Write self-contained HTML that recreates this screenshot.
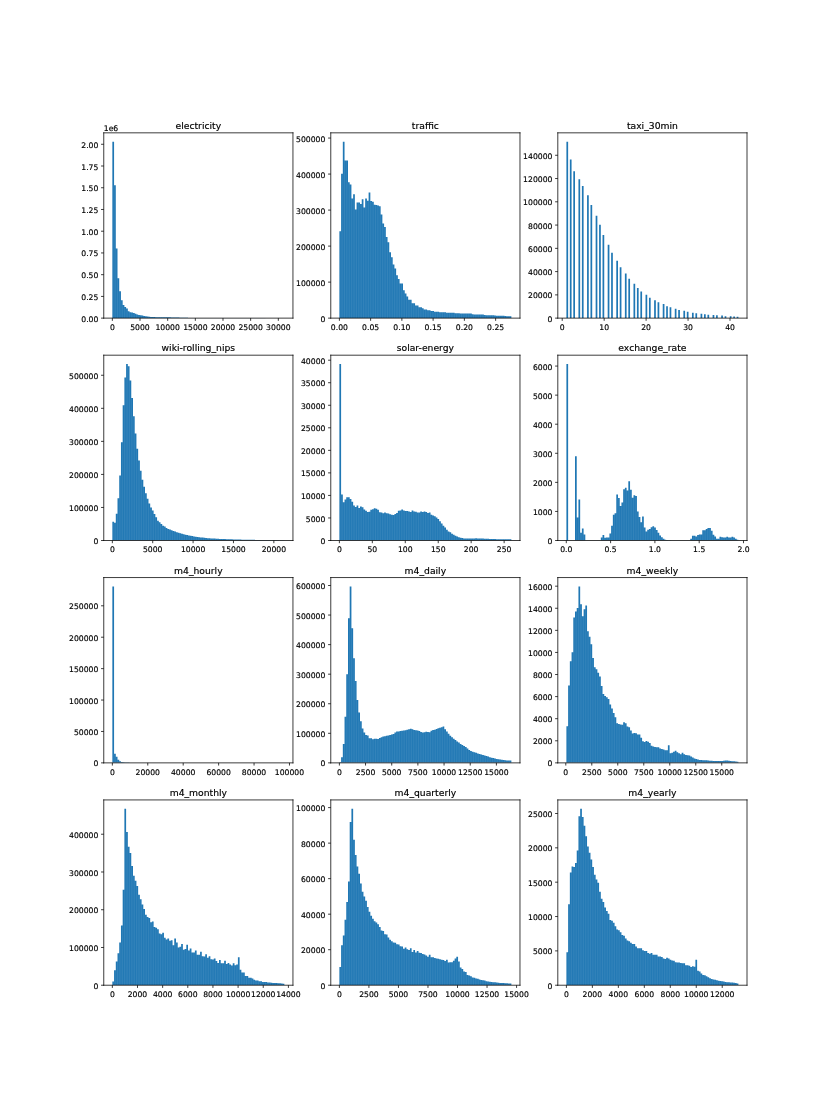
<!DOCTYPE html>
<html><head><meta charset="utf-8"><title>histograms</title>
<style>html,body{margin:0;padding:0;background:#fff;width:830px;height:1107px;overflow:hidden}
svg{display:block}
.bars{fill:#1f77b4}
.seams{fill:none;stroke:#fff;stroke-width:.5;stroke-opacity:.25}
text{font-family:"DejaVu Sans","Liberation Sans",sans-serif;stroke:#000;stroke-width:.22}
use{stroke:#000;stroke-width:1}</style></head>
<body>
<svg width="830" height="1107" preserveAspectRatio="none" viewBox="0 0 1080 1440" version="1.1">
<defs>
<style type="text/css">*{stroke-linejoin: round; stroke-linecap: butt}</style>
</defs>
<g id="figure_1">
<g id="patch_1">
<path d="M 0 1440 
L 1080 1440 
L 1080 0 
L 0 0 
z
" style="fill: #ffffff"/>
</g>
<g id="axes_1">
<g id="patch_2">
<path d="M 135 413.84 
L 381.18 413.84 
L 381.18 172.8 
L 135 172.8 
z
" style="fill: #ffffff"/>
</g>
<path class="bars" clip-path="url(#pd97300e546)" d="M146.19 413.84H148.43V184.28H146.19ZM148.43 413.84H150.67V240.82H148.43ZM150.67 413.84H152.9V323.37H150.67ZM152.9 413.84H155.14V361.94H152.9ZM155.14 413.84H157.38V378.9H155.14ZM157.38 413.84H159.62V390.66H157.38ZM159.62 413.84H161.86V396.88H159.62ZM161.86 413.84H164.09V399.48H161.86ZM164.09 413.84H166.33V401.4H164.09ZM166.33 413.84H168.57V404.91H166.33ZM168.57 413.84H170.81V406.15H168.57ZM170.81 413.84H173.05V406.49H170.81ZM173.05 413.84H175.28V407.06H173.05ZM175.28 413.84H177.52V408.19H175.28ZM177.52 413.84H179.76V409.09H177.52ZM179.76 413.84H182V409.77H179.76ZM182 413.84H184.24V410.22H182ZM184.24 413.84H186.47V410.56H184.24ZM186.47 413.84H188.71V411.02H186.47ZM188.71 413.84H190.95V411.36H188.71ZM190.95 413.84H193.19V411.61H190.95ZM193.19 413.84H195.43V411.99H193.19ZM195.43 413.84H197.66V412.22H195.43ZM197.66 413.84H199.9V412.35H197.66ZM199.9 413.84H202.14V412.46H199.9ZM202.14 413.84H204.38V412.55H202.14ZM204.38 413.84H206.61V412.6H204.38ZM206.61 413.84H208.85V412.62H206.61ZM208.85 413.84H211.09V412.63H208.85ZM211.09 413.84H213.33V412.64H211.09ZM213.33 413.84H215.57V412.66H213.33ZM215.57 413.84H217.8V412.68H215.57ZM217.8 413.84H220.04V412.71H217.8ZM220.04 413.84H222.28V412.83H220.04ZM222.28 413.84H224.52V412.94H222.28ZM224.52 413.84H226.76V412.98H224.52ZM226.76 413.84H228.99V413.03H226.76ZM228.99 413.84H231.23V413.07H228.99ZM231.23 413.84H233.47V413.11H231.23ZM233.47 413.84H235.71V413.2H233.47ZM235.71 413.84H237.95V413.28H235.71ZM237.95 413.84H240.18V413.35H237.95ZM240.18 413.84H242.42V413.41H240.18ZM242.42 413.84H244.66V413.47H242.42ZM244.66 413.84H246.9V413.52H244.66ZM246.9 413.84H249.14V413.56H246.9ZM249.14 413.84H251.37V413.6H249.14ZM251.37 413.84H253.61V413.63H251.37ZM253.61 413.84H255.85V413.66H253.61ZM255.85 413.84H258.09V413.69H255.85ZM258.09 413.84H260.33V413.71H258.09ZM260.33 413.84H262.56V413.72H260.33ZM262.56 413.84H264.8V413.73H262.56ZM264.8 413.84H267.04V413.73H264.8ZM267.04 413.84H269.28V413.74H267.04ZM269.28 413.84H271.52V413.75H269.28ZM271.52 413.84H273.75V413.75H271.52ZM273.75 413.84H275.99V413.76H273.75ZM275.99 413.84H278.23V413.77H275.99ZM278.23 413.84H280.47V413.77H278.23ZM280.47 413.84H282.71V413.78H280.47ZM282.71 413.84H284.94V413.78H282.71ZM284.94 413.84H287.18V413.78H284.94ZM287.18 413.84H289.42V413.78H287.18ZM289.42 413.84H291.66V413.79H289.42ZM291.66 413.84H293.9V413.79H291.66ZM293.9 413.84H296.13V413.79H293.9ZM296.13 413.84H298.37V413.79H296.13ZM298.37 413.84H300.61V413.8H298.37ZM300.61 413.84H302.85V413.8H300.61ZM302.85 413.84H305.09V413.8H302.85ZM305.09 413.84H307.32V413.8H305.09ZM307.32 413.84H309.56V413.8H307.32ZM309.56 413.84H311.8V413.81H309.56ZM311.8 413.84H314.04V413.81H311.8ZM314.04 413.84H316.28V413.81H314.04ZM316.28 413.84H318.51V413.81H316.28ZM318.51 413.84H320.75V413.81H318.51ZM320.75 413.84H322.99V413.81H320.75ZM322.99 413.84H325.23V413.81H322.99ZM325.23 413.84H327.47V413.82H325.23ZM327.47 413.84H329.7V413.82H327.47ZM329.7 413.84H331.94V413.82H329.7ZM331.94 413.84H334.18V413.82H331.94ZM334.18 413.84H336.42V413.82H334.18ZM336.42 413.84H338.66V413.82H336.42ZM338.66 413.84H340.89V413.82H338.66ZM340.89 413.84H343.13V413.82H340.89ZM343.13 413.84H345.37V413.82H343.13ZM345.37 413.84H347.61V413.83H345.37ZM347.61 413.84H349.84V413.83H347.61ZM349.84 413.84H352.08V413.83H349.84ZM352.08 413.84H354.32V413.83H352.08ZM354.32 413.84H356.56V413.83H354.32ZM356.56 413.84H358.8V413.83H356.56ZM358.8 413.84H361.03V413.83H358.8ZM361.03 413.84H363.27V413.83H361.03ZM363.27 413.84H365.51V413.83H363.27ZM365.51 413.84H367.75V413.83H365.51ZM367.75 413.84H369.99V413.83H367.75Z"/>
<path class="seams" clip-path="url(#pd97300e546)" d="M148.43 413.84V240.97M150.67 413.84V323.52M152.9 413.84V362.09M155.14 413.84V379.05M157.38 413.84V390.81M159.62 413.84V397.03M161.86 413.84V399.63M164.09 413.84V401.55M166.33 413.84V405.06M168.57 413.84V406.3M170.81 413.84V406.64M173.05 413.84V407.21M175.28 413.84V408.34M177.52 413.84V409.24M179.76 413.84V409.92M182 413.84V410.37M184.24 413.84V410.71M186.47 413.84V411.17M188.71 413.84V411.51M190.95 413.84V411.76M193.19 413.84V412.14M195.43 413.84V412.37M197.66 413.84V412.5M199.9 413.84V412.61M202.14 413.84V412.7M204.38 413.84V412.75M206.61 413.84V412.77M208.85 413.84V412.78M211.09 413.84V412.79M213.33 413.84V412.81M215.57 413.84V412.83M217.8 413.84V412.86M220.04 413.84V412.98M222.28 413.84V413.09M224.52 413.84V413.13M226.76 413.84V413.18M228.99 413.84V413.22M231.23 413.84V413.26M233.47 413.84V413.35M235.71 413.84V413.43M237.95 413.84V413.5M240.18 413.84V413.56M242.42 413.84V413.62M244.66 413.84V413.67"/>
<g id="matplotlib.axis_1">
<g id="xtick_1">
<g id="line2d_1">
<defs>
<path id="m1504cfccaf" d="M 0 0 
L 0 3.5 
" />
</defs>
<g>
<use href="#m1504cfccaf" x="146.19" y="413.84" />
</g>
</g>
<g id="text_1">
<text style="font-size: 10px; text-anchor: middle" x="146.19" y="429.24">0</text>
</g>
</g>
<g id="xtick_2">
<g id="line2d_2">
<g>
<use href="#m1504cfccaf" x="182.18" y="413.84" />
</g>
</g>
<g id="text_2">
<text style="font-size: 10px; text-anchor: middle" x="182.18" y="429.24">5000</text>
</g>
</g>
<g id="xtick_3">
<g id="line2d_3">
<g>
<use href="#m1504cfccaf" x="218.18" y="413.84" />
</g>
</g>
<g id="text_3">
<text style="font-size: 10px; text-anchor: middle" x="218.18" y="429.24">10000</text>
</g>
</g>
<g id="xtick_4">
<g id="line2d_4">
<g>
<use href="#m1504cfccaf" x="254.17" y="413.84" />
</g>
</g>
<g id="text_4">
<text style="font-size: 10px; text-anchor: middle" x="254.17" y="429.24">15000</text>
</g>
</g>
<g id="xtick_5">
<g id="line2d_5">
<g>
<use href="#m1504cfccaf" x="290.16" y="413.84" />
</g>
</g>
<g id="text_5">
<text style="font-size: 10px; text-anchor: middle" x="290.16" y="429.24">20000</text>
</g>
</g>
<g id="xtick_6">
<g id="line2d_6">
<g>
<use href="#m1504cfccaf" x="326.15" y="413.84" />
</g>
</g>
<g id="text_6">
<text style="font-size: 10px; text-anchor: middle" x="326.15" y="429.24">25000</text>
</g>
</g>
<g id="xtick_7">
<g id="line2d_7">
<g>
<use href="#m1504cfccaf" x="362.15" y="413.84" />
</g>
</g>
<g id="text_7">
<text style="font-size: 10px; text-anchor: middle" x="362.15" y="429.24">30000</text>
</g>
</g>
</g>
<g id="matplotlib.axis_2">
<g id="ytick_1">
<g id="line2d_8">
<defs>
<path id="m5d545ce8f8" d="M 0 0 
L -3.5 0 
" />
</defs>
<g>
<use href="#m5d545ce8f8" x="135" y="413.84" />
</g>
</g>
<g id="text_8">
<text style="font-size: 10px; text-anchor: end" x="128" y="418.44">0.00</text>
</g>
</g>
<g id="ytick_2">
<g id="line2d_9">
<g>
<use href="#m5d545ce8f8" x="135" y="385.57" />
</g>
</g>
<g id="text_9">
<text style="font-size: 10px; text-anchor: end" x="128" y="390.17">0.25</text>
</g>
</g>
<g id="ytick_3">
<g id="line2d_10">
<g>
<use href="#m5d545ce8f8" x="135" y="357.3" />
</g>
</g>
<g id="text_10">
<text style="font-size: 10px; text-anchor: end" x="128" y="361.9">0.50</text>
</g>
</g>
<g id="ytick_4">
<g id="line2d_11">
<g>
<use href="#m5d545ce8f8" x="135" y="329.03" />
</g>
</g>
<g id="text_11">
<text style="font-size: 10px; text-anchor: end" x="128" y="333.63">0.75</text>
</g>
</g>
<g id="ytick_5">
<g id="line2d_12">
<g>
<use href="#m5d545ce8f8" x="135" y="300.76" />
</g>
</g>
<g id="text_12">
<text style="font-size: 10px; text-anchor: end" x="128" y="305.36">1.00</text>
</g>
</g>
<g id="ytick_6">
<g id="line2d_13">
<g>
<use href="#m5d545ce8f8" x="135" y="272.49" />
</g>
</g>
<g id="text_13">
<text style="font-size: 10px; text-anchor: end" x="128" y="277.08">1.25</text>
</g>
</g>
<g id="ytick_7">
<g id="line2d_14">
<g>
<use href="#m5d545ce8f8" x="135" y="244.21" />
</g>
</g>
<g id="text_14">
<text style="font-size: 10px; text-anchor: end" x="128" y="248.81">1.50</text>
</g>
</g>
<g id="ytick_8">
<g id="line2d_15">
<g>
<use href="#m5d545ce8f8" x="135" y="215.94" />
</g>
</g>
<g id="text_15">
<text style="font-size: 10px; text-anchor: end" x="128" y="220.54">1.75</text>
</g>
</g>
<g id="ytick_9">
<g id="line2d_16">
<g>
<use href="#m5d545ce8f8" x="135" y="187.67" />
</g>
</g>
<g id="text_16">
<text style="font-size: 10px; text-anchor: end" x="128" y="192.27">2.00</text>
</g>
</g>
<g id="text_17">
<text style="font-size: 10px; text-anchor: start" x="135" y="170.6">1e6</text>
</g>
</g>
<g id="patch_103">
<path d="M 135 413.84 
L 135 172.8 
" style="fill: none; stroke: #000000; stroke-width: 1; stroke-linejoin: miter; stroke-linecap: square"/>
</g>
<g id="patch_104">
<path d="M 381.18 413.84 
L 381.18 172.8 
" style="fill: none; stroke: #000000; stroke-width: 1; stroke-linejoin: miter; stroke-linecap: square"/>
</g>
<g id="patch_105">
<path d="M 135 413.84 
L 381.18 413.84 
" style="fill: none; stroke: #000000; stroke-width: 1; stroke-linejoin: miter; stroke-linecap: square"/>
</g>
<g id="patch_106">
<path d="M 135 172.8 
L 381.18 172.8 
" style="fill: none; stroke: #000000; stroke-width: 1; stroke-linejoin: miter; stroke-linecap: square"/>
</g>
<g id="text_18">
<text style="font-size: 12px; text-anchor: middle" x="258.09" y="167.6">electricity</text>
</g>
</g>
<g id="axes_2">
<g id="patch_107">
<path d="M 430.41 413.84 
L 676.59 413.84 
L 676.59 172.8 
L 430.41 172.8 
z
" style="fill: #ffffff"/>
</g>
<path class="bars" clip-path="url(#p04cb8b4899)" d="M441.6 413.84H443.84V300.93H441.6ZM443.84 413.84H446.08V225.97H443.84ZM446.08 413.84H448.32V184.28H446.08ZM448.32 413.84H450.55V208.64H448.32ZM450.55 413.84H452.79V208.64H450.55ZM452.79 413.84H455.03V237.22H452.79ZM455.03 413.84H457.27V240.03H455.03ZM457.27 413.84H459.51V258.3H457.27ZM459.51 413.84H461.74V252.68H459.51ZM461.74 413.84H463.98V272.36H461.74ZM463.98 413.84H466.22V263.45H463.98ZM466.22 413.84H468.46V263.45H466.22ZM468.46 413.84H470.7V265.33H468.46ZM470.7 413.84H472.93V259.24H470.7ZM472.93 413.84H475.17V270.01H472.93ZM475.17 413.84H477.41V258.3H475.17ZM477.41 413.84H479.65V261.11H477.41ZM479.65 413.84H481.89V250.34H479.65ZM481.89 413.84H484.12V261.58H481.89ZM484.12 413.84H486.36V262.52H484.12ZM486.36 413.84H488.6V266.27H486.36ZM488.6 413.84H490.84V266.73H488.6ZM490.84 413.84H493.07V267.2H490.84ZM493.07 413.84H495.31V268.14H493.07ZM495.31 413.84H497.55V278.92H495.31ZM497.55 413.84H499.79V290.63H497.55ZM499.79 413.84H502.03V295.31H499.79ZM502.03 413.84H504.26V308.43H502.03ZM504.26 413.84H506.5V314.99H504.26ZM506.5 413.84H508.74V328.11H506.5ZM508.74 413.84H510.98V334.67H508.74ZM510.98 413.84H513.22V344.04H510.98ZM513.22 413.84H515.45V349.19H513.22ZM515.45 413.84H517.69V358.09H515.45ZM517.69 413.84H519.93V362.78H517.69ZM519.93 413.84H522.17V368.77H519.93ZM522.17 413.84H524.41V368.77H522.17ZM524.41 413.84H526.64V377.68H524.41ZM526.64 413.84H528.88V381.89H526.64ZM528.88 413.84H531.12V385.64H528.88ZM531.12 413.84H533.36V389.86H531.12ZM533.36 413.84H535.6V389.86H533.36ZM535.6 413.84H537.83V394.54H535.6ZM537.83 413.84H540.07V394.54H537.83ZM540.07 413.84H542.31V397.35H540.07ZM542.31 413.84H544.55V397.35H542.31ZM544.55 413.84H546.79V399.69H544.55ZM546.79 413.84H549.02V399.69H546.79ZM549.02 413.84H551.26V401.1H549.02ZM551.26 413.84H553.5V402.51H551.26ZM553.5 413.84H555.74V402.51H553.5ZM555.74 413.84H557.98V403.44H555.74ZM557.98 413.84H560.21V403.44H557.98ZM560.21 413.84H562.45V404.66H560.21ZM562.45 413.84H564.69V404.66H562.45ZM564.69 413.84H566.93V405.6H564.69ZM566.93 413.84H569.17V405.6H566.93ZM569.17 413.84H571.4V405.6H569.17ZM571.4 413.84H573.64V406.25H571.4ZM573.64 413.84H575.88V406.25H573.64ZM575.88 413.84H578.12V406.25H575.88ZM578.12 413.84H580.36V406.25H578.12ZM580.36 413.84H582.59V406.91H580.36ZM582.59 413.84H584.83V406.91H582.59ZM584.83 413.84H587.07V406.91H584.83ZM587.07 413.84H589.31V406.91H587.07ZM589.31 413.84H591.55V406.91H589.31ZM591.55 413.84H593.78V407.38H591.55ZM593.78 413.84H596.02V407.38H593.78ZM596.02 413.84H598.26V407.38H596.02ZM598.26 413.84H600.5V407.66H598.26ZM600.5 413.84H602.74V407.85H600.5ZM602.74 413.84H604.97V407.85H602.74ZM604.97 413.84H607.21V407.85H604.97ZM607.21 413.84H609.45V407.85H607.21ZM609.45 413.84H611.69V407.85H609.45ZM611.69 413.84H613.93V407.85H611.69ZM613.93 413.84H616.16V408.83H613.93ZM616.16 413.84H618.4V409.06H616.16ZM618.4 413.84H620.64V409.06H618.4ZM620.64 413.84H622.88V409.06H620.64ZM622.88 413.84H625.11V409.06H622.88ZM625.11 413.84H627.35V409.06H625.11ZM627.35 413.84H629.59V409.06H627.35ZM629.59 413.84H631.83V409.77H629.59ZM631.83 413.84H634.07V410H631.83ZM634.07 413.84H636.3V410H634.07ZM636.3 413.84H638.54V410H636.3ZM638.54 413.84H640.78V410H638.54ZM640.78 413.84H643.02V410H640.78ZM643.02 413.84H645.26V410.56H643.02ZM645.26 413.84H647.49V410.66H645.26ZM647.49 413.84H649.73V410.66H647.49ZM649.73 413.84H651.97V410.66H649.73ZM651.97 413.84H654.21V410.66H651.97ZM654.21 413.84H656.45V410.66H654.21ZM656.45 413.84H658.68V410.94H656.45ZM658.68 413.84H660.92V411.22H658.68ZM660.92 413.84H663.16V411.31H660.92ZM663.16 413.84H665.4V411.31H663.16Z"/>
<path class="seams" clip-path="url(#p04cb8b4899)" d="M443.84 413.84V301.08M446.08 413.84V226.12M448.32 413.84V208.79M450.55 413.84V208.79M452.79 413.84V237.37M455.03 413.84V240.18M457.27 413.84V258.45M459.51 413.84V258.45M461.74 413.84V272.51M463.98 413.84V272.51M466.22 413.84V263.6M468.46 413.84V265.48M470.7 413.84V265.48M472.93 413.84V270.16M475.17 413.84V270.16M477.41 413.84V261.26M479.65 413.84V261.26M481.89 413.84V261.73M484.12 413.84V262.67M486.36 413.84V266.42M488.6 413.84V266.88M490.84 413.84V267.35M493.07 413.84V268.29M495.31 413.84V279.07M497.55 413.84V290.78M499.79 413.84V295.46M502.03 413.84V308.58M504.26 413.84V315.14M506.5 413.84V328.26M508.74 413.84V334.82M510.98 413.84V344.19M513.22 413.84V349.34M515.45 413.84V358.24M517.69 413.84V362.93M519.93 413.84V368.92M522.17 413.84V368.92M524.41 413.84V377.83M526.64 413.84V382.04M528.88 413.84V385.79M531.12 413.84V390.01M533.36 413.84V390.01M535.6 413.84V394.69M537.83 413.84V394.69M540.07 413.84V397.5M542.31 413.84V397.5M544.55 413.84V399.84M546.79 413.84V399.84M549.02 413.84V401.25M551.26 413.84V402.66M553.5 413.84V402.66M555.74 413.84V403.59M557.98 413.84V403.59M560.21 413.84V404.81M562.45 413.84V404.81M564.69 413.84V405.75M566.93 413.84V405.75M569.17 413.84V405.75M571.4 413.84V406.4M573.64 413.84V406.4M575.88 413.84V406.4M578.12 413.84V406.4M580.36 413.84V407.06M582.59 413.84V407.06M584.83 413.84V407.06M587.07 413.84V407.06M589.31 413.84V407.06M591.55 413.84V407.53M593.78 413.84V407.53M596.02 413.84V407.53M598.26 413.84V407.81M600.5 413.84V408M602.74 413.84V408M604.97 413.84V408M607.21 413.84V408M609.45 413.84V408M611.69 413.84V408M613.93 413.84V408.98M616.16 413.84V409.21M618.4 413.84V409.21M620.64 413.84V409.21M622.88 413.84V409.21M625.11 413.84V409.21M627.35 413.84V409.21M629.59 413.84V409.92M631.83 413.84V410.15M634.07 413.84V410.15M636.3 413.84V410.15M638.54 413.84V410.15M640.78 413.84V410.15M643.02 413.84V410.71M645.26 413.84V410.81M647.49 413.84V410.81M649.73 413.84V410.81M651.97 413.84V410.81M654.21 413.84V410.81M656.45 413.84V411.09M658.68 413.84V411.37M660.92 413.84V411.46M663.16 413.84V411.46"/>
<g id="matplotlib.axis_3">
<g id="xtick_8">
<g id="line2d_17">
<g>
<use href="#m1504cfccaf" x="441.6" y="413.84" />
</g>
</g>
<g id="text_19">
<text style="font-size: 10px; text-anchor: middle" x="441.6" y="429.24">0.00</text>
</g>
</g>
<g id="xtick_9">
<g id="line2d_18">
<g>
<use href="#m1504cfccaf" x="482.26" y="413.84" />
</g>
</g>
<g id="text_20">
<text style="font-size: 10px; text-anchor: middle" x="482.26" y="429.24">0.05</text>
</g>
</g>
<g id="xtick_10">
<g id="line2d_19">
<g>
<use href="#m1504cfccaf" x="522.92" y="413.84" />
</g>
</g>
<g id="text_21">
<text style="font-size: 10px; text-anchor: middle" x="522.92" y="429.24">0.10</text>
</g>
</g>
<g id="xtick_11">
<g id="line2d_20">
<g>
<use href="#m1504cfccaf" x="563.58" y="413.84" />
</g>
</g>
<g id="text_22">
<text style="font-size: 10px; text-anchor: middle" x="563.58" y="429.24">0.15</text>
</g>
</g>
<g id="xtick_12">
<g id="line2d_21">
<g>
<use href="#m1504cfccaf" x="604.24" y="413.84" />
</g>
</g>
<g id="text_23">
<text style="font-size: 10px; text-anchor: middle" x="604.24" y="429.24">0.20</text>
</g>
</g>
<g id="xtick_13">
<g id="line2d_22">
<g>
<use href="#m1504cfccaf" x="644.91" y="413.84" />
</g>
</g>
<g id="text_24">
<text style="font-size: 10px; text-anchor: middle" x="644.91" y="429.24">0.25</text>
</g>
</g>
</g>
<g id="matplotlib.axis_4">
<g id="ytick_10">
<g id="line2d_23">
<g>
<use href="#m5d545ce8f8" x="430.41" y="413.84" />
</g>
</g>
<g id="text_25">
<text style="font-size: 10px; text-anchor: end" x="423.41" y="418.44">0</text>
</g>
</g>
<g id="ytick_11">
<g id="line2d_24">
<g>
<use href="#m5d545ce8f8" x="430.41" y="366.99" />
</g>
</g>
<g id="text_26">
<text style="font-size: 10px; text-anchor: end" x="423.41" y="371.59">100000</text>
</g>
</g>
<g id="ytick_12">
<g id="line2d_25">
<g>
<use href="#m5d545ce8f8" x="430.41" y="320.14" />
</g>
</g>
<g id="text_27">
<text style="font-size: 10px; text-anchor: end" x="423.41" y="324.74">200000</text>
</g>
</g>
<g id="ytick_13">
<g id="line2d_26">
<g>
<use href="#m5d545ce8f8" x="430.41" y="273.29" />
</g>
</g>
<g id="text_28">
<text style="font-size: 10px; text-anchor: end" x="423.41" y="277.89">300000</text>
</g>
</g>
<g id="ytick_14">
<g id="line2d_27">
<g>
<use href="#m5d545ce8f8" x="430.41" y="226.44" />
</g>
</g>
<g id="text_29">
<text style="font-size: 10px; text-anchor: end" x="423.41" y="231.04">400000</text>
</g>
</g>
<g id="ytick_15">
<g id="line2d_28">
<g>
<use href="#m5d545ce8f8" x="430.41" y="179.59" />
</g>
</g>
<g id="text_30">
<text style="font-size: 10px; text-anchor: end" x="423.41" y="184.19">500000</text>
</g>
</g>
</g>
<g id="patch_208">
<path d="M 430.41 413.84 
L 430.41 172.8 
" style="fill: none; stroke: #000000; stroke-width: 1; stroke-linejoin: miter; stroke-linecap: square"/>
</g>
<g id="patch_209">
<path d="M 676.59 413.84 
L 676.59 172.8 
" style="fill: none; stroke: #000000; stroke-width: 1; stroke-linejoin: miter; stroke-linecap: square"/>
</g>
<g id="patch_210">
<path d="M 430.41 413.84 
L 676.59 413.84 
" style="fill: none; stroke: #000000; stroke-width: 1; stroke-linejoin: miter; stroke-linecap: square"/>
</g>
<g id="patch_211">
<path d="M 430.41 172.8 
L 676.59 172.8 
" style="fill: none; stroke: #000000; stroke-width: 1; stroke-linejoin: miter; stroke-linecap: square"/>
</g>
<g id="text_31">
<text style="font-size: 12px; text-anchor: middle" x="553.5" y="167.6">traffic</text>
</g>
</g>
<g id="axes_3">
<g id="patch_212">
<path d="M 725.82 413.84 
L 972 413.84 
L 972 172.8 
L 725.82 172.8 
z
" style="fill: #ffffff"/>
</g>
<path class="bars" clip-path="url(#pd97a7c8abd)" d="M737.01 413.84H739.25V184.28H737.01ZM741.49 413.84H743.73V207.43H741.49ZM745.97 413.84H748.2V222.72H745.97ZM752.68 413.84H754.92V233.16H752.68ZM757.16 413.84H759.39V242.09H757.16ZM763.87 413.84H766.11V253.89H763.87ZM768.34 413.84H770.58V266.6H768.34ZM775.06 413.84H777.3V280.52H775.06ZM779.53 413.84H781.77V292.33H779.53ZM784.01 413.84H786.25V305.79H784.01ZM790.72 413.84H792.96V318.51H790.72ZM795.2 413.84H797.44V328.8H795.2ZM801.91 413.84H804.15V339.24H801.91ZM806.39 413.84H808.63V347.71H806.39ZM813.1 413.84H815.34V355.73H813.1ZM817.58 413.84H819.82V362.54H817.58ZM824.29 413.84H826.53V369.2H824.29ZM828.77 413.84H831.01V374.5H828.77ZM833.25 413.84H835.48V379.04H833.25ZM839.96 413.84H842.2V383.28H839.96ZM844.44 413.84H846.67V387.21H844.44ZM851.15 413.84H853.39V390.69H851.15ZM855.63 413.84H857.86V393.26H855.63ZM862.34 413.84H864.58V395.53H862.34ZM866.82 413.84H869.05V398.26H866.82ZM871.29 413.84H873.53V399.77H871.29ZM878.01 413.84H880.24V401.74H878.01ZM882.48 413.84H884.72V403.25H882.48ZM889.2 413.84H891.43V404.31H889.2ZM893.67 413.84H895.91V405.67H893.67ZM900.39 413.84H902.62V406.73H900.39ZM904.86 413.84H907.1V407.49H904.86ZM911.57 413.84H913.81V408.09H911.57ZM916.05 413.84H918.29V408.85H916.05ZM920.53 413.84H922.76V409.45H920.53ZM927.24 413.84H929.48V409.91H927.24ZM931.72 413.84H933.95V410.06H931.72ZM938.43 413.84H940.67V410.51H938.43ZM942.91 413.84H945.14V411.27H942.91ZM949.62 413.84H951.86V411.42H949.62ZM954.1 413.84H956.33V411.57H954.1ZM958.57 413.84H960.81V411.88H958.57Z"/>
<g id="matplotlib.axis_5">
<g id="xtick_14">
<g id="line2d_29">
<g>
<use href="#m1504cfccaf" x="731.55" y="413.84" />
</g>
</g>
<g id="text_32">
<text style="font-size: 10px; text-anchor: middle" x="731.55" y="429.24">0</text>
</g>
</g>
<g id="xtick_15">
<g id="line2d_30">
<g>
<use href="#m1504cfccaf" x="786.14" y="413.84" />
</g>
</g>
<g id="text_33">
<text style="font-size: 10px; text-anchor: middle" x="786.14" y="429.24">10</text>
</g>
</g>
<g id="xtick_16">
<g id="line2d_31">
<g>
<use href="#m1504cfccaf" x="840.72" y="413.84" />
</g>
</g>
<g id="text_34">
<text style="font-size: 10px; text-anchor: middle" x="840.72" y="429.24">20</text>
</g>
</g>
<g id="xtick_17">
<g id="line2d_32">
<g>
<use href="#m1504cfccaf" x="895.31" y="413.84" />
</g>
</g>
<g id="text_35">
<text style="font-size: 10px; text-anchor: middle" x="895.31" y="429.24">30</text>
</g>
</g>
<g id="xtick_18">
<g id="line2d_33">
<g>
<use href="#m1504cfccaf" x="949.89" y="413.84" />
</g>
</g>
<g id="text_36">
<text style="font-size: 10px; text-anchor: middle" x="949.89" y="429.24">40</text>
</g>
</g>
</g>
<g id="matplotlib.axis_6">
<g id="ytick_16">
<g id="line2d_34">
<g>
<use href="#m5d545ce8f8" x="725.82" y="413.84" />
</g>
</g>
<g id="text_37">
<text style="font-size: 10px; text-anchor: end" x="718.82" y="418.44">0</text>
</g>
</g>
<g id="ytick_17">
<g id="line2d_35">
<g>
<use href="#m5d545ce8f8" x="725.82" y="383.58" />
</g>
</g>
<g id="text_38">
<text style="font-size: 10px; text-anchor: end" x="718.82" y="388.18">20000</text>
</g>
</g>
<g id="ytick_18">
<g id="line2d_36">
<g>
<use href="#m5d545ce8f8" x="725.82" y="353.31" />
</g>
</g>
<g id="text_39">
<text style="font-size: 10px; text-anchor: end" x="718.82" y="357.91">40000</text>
</g>
</g>
<g id="ytick_19">
<g id="line2d_37">
<g>
<use href="#m5d545ce8f8" x="725.82" y="323.05" />
</g>
</g>
<g id="text_40">
<text style="font-size: 10px; text-anchor: end" x="718.82" y="327.65">60000</text>
</g>
</g>
<g id="ytick_20">
<g id="line2d_38">
<g>
<use href="#m5d545ce8f8" x="725.82" y="292.78" />
</g>
</g>
<g id="text_41">
<text style="font-size: 10px; text-anchor: end" x="718.82" y="297.38">80000</text>
</g>
</g>
<g id="ytick_21">
<g id="line2d_39">
<g>
<use href="#m5d545ce8f8" x="725.82" y="262.52" />
</g>
</g>
<g id="text_42">
<text style="font-size: 10px; text-anchor: end" x="718.82" y="267.11">100000</text>
</g>
</g>
<g id="ytick_22">
<g id="line2d_40">
<g>
<use href="#m5d545ce8f8" x="725.82" y="232.25" />
</g>
</g>
<g id="text_43">
<text style="font-size: 10px; text-anchor: end" x="718.82" y="236.85">120000</text>
</g>
</g>
<g id="ytick_23">
<g id="line2d_41">
<g>
<use href="#m5d545ce8f8" x="725.82" y="201.98" />
</g>
</g>
<g id="text_44">
<text style="font-size: 10px; text-anchor: end" x="718.82" y="206.58">140000</text>
</g>
</g>
</g>
<g id="patch_313">
<path d="M 725.82 413.84 
L 725.82 172.8 
" style="fill: none; stroke: #000000; stroke-width: 1; stroke-linejoin: miter; stroke-linecap: square"/>
</g>
<g id="patch_314">
<path d="M 972 413.84 
L 972 172.8 
" style="fill: none; stroke: #000000; stroke-width: 1; stroke-linejoin: miter; stroke-linecap: square"/>
</g>
<g id="patch_315">
<path d="M 725.82 413.84 
L 972 413.84 
" style="fill: none; stroke: #000000; stroke-width: 1; stroke-linejoin: miter; stroke-linecap: square"/>
</g>
<g id="patch_316">
<path d="M 725.82 172.8 
L 972 172.8 
" style="fill: none; stroke: #000000; stroke-width: 1; stroke-linejoin: miter; stroke-linecap: square"/>
</g>
<g id="text_45">
<text style="font-size: 12px; text-anchor: middle" x="848.91" y="167.6">taxi_30min</text>
</g>
</g>
<g id="axes_4">
<g id="patch_317">
<path d="M 135 703.1 
L 381.18 703.1 
L 381.18 462.05 
L 135 462.05 
z
" style="fill: #ffffff"/>
</g>
<path class="bars" clip-path="url(#pf12d10b1b9)" d="M146.19 703.1H148.43V678.59H146.19ZM148.43 703.1H150.67V679.88H148.43ZM150.67 703.1H152.9V668.27H150.67ZM152.9 703.1H155.14V648.07H152.9ZM155.14 703.1H157.38V618.41H155.14ZM157.38 703.1H159.62V575.42H157.38ZM159.62 703.1H161.86V527.27H159.62ZM161.86 703.1H164.09V491.16H161.86ZM164.09 703.1H166.33V473.53H164.09ZM166.33 703.1H168.57V476.54H166.33ZM168.57 703.1H170.81V495.03H168.57ZM170.81 703.1H173.05V517.81H170.81ZM173.05 703.1H175.28V541.45H173.05ZM175.28 703.1H177.52V563.81H175.28ZM177.52 703.1H179.76V583.58H177.52ZM179.76 703.1H182V599.06H179.76ZM182 703.1H184.24V612.39H182ZM184.24 703.1H186.47V623.99H184.24ZM186.47 703.1H188.71V633.02H186.47ZM188.71 703.1H190.95V641.62H188.71ZM190.95 703.1H193.19V648.93H190.95ZM193.19 703.1H195.43V654.95H193.19ZM195.43 703.1H197.66V660.11H195.43ZM197.66 703.1H199.9V663.97H197.66ZM199.9 703.1H202.14V668.7H199.9ZM202.14 703.1H204.38V673H202.14ZM204.38 703.1H206.61V677.3H204.38ZM206.61 703.1H208.85V679.45H206.61ZM208.85 703.1H211.09V681.6H208.85ZM211.09 703.1H213.33V683.75H211.09ZM213.33 703.1H215.57V685.04H213.33ZM215.57 703.1H217.8V686.76H215.57ZM217.8 703.1H220.04V688.05H217.8ZM220.04 703.1H222.28V688.87H220.04ZM222.28 703.1H224.52V689.7H222.28ZM224.52 703.1H226.76V690.57H224.52ZM226.76 703.1H228.99V691.42H226.76ZM228.99 703.1H231.23V692.29H228.99ZM231.23 703.1H233.47V693.05H231.23ZM233.47 703.1H235.71V693.7H233.47ZM235.71 703.1H237.95V694.36H235.71ZM237.95 703.1H240.18V695.04H237.95ZM240.18 703.1H242.42V695.59H240.18ZM242.42 703.1H244.66V696.03H242.42ZM244.66 703.1H246.9V696.45H244.66ZM246.9 703.1H249.14V696.89H246.9ZM249.14 703.1H251.37V697.35H249.14ZM251.37 703.1H253.61V697.78H251.37ZM253.61 703.1H255.85V698.14H253.61ZM255.85 703.1H258.09V698.47H255.85ZM258.09 703.1H260.33V698.77H258.09ZM260.33 703.1H262.56V699.06H260.33ZM262.56 703.1H264.8V699.32H262.56ZM264.8 703.1H267.04V699.57H264.8ZM267.04 703.1H269.28V699.8H267.04ZM269.28 703.1H271.52V700.02H269.28ZM271.52 703.1H273.75V700.22H271.52ZM273.75 703.1H275.99V700.38H273.75ZM275.99 703.1H278.23V700.51H275.99ZM278.23 703.1H280.47V700.65H278.23ZM280.47 703.1H282.71V700.77H280.47ZM282.71 703.1H284.94V700.89H282.71ZM284.94 703.1H287.18V700.99H284.94ZM287.18 703.1H289.42V701.08H287.18ZM289.42 703.1H291.66V701.17H289.42ZM291.66 703.1H293.9V701.25H291.66ZM293.9 703.1H296.13V701.33H293.9ZM296.13 703.1H298.37V701.43H296.13ZM298.37 703.1H300.61V701.52H298.37ZM300.61 703.1H302.85V701.61H300.61ZM302.85 703.1H305.09V701.69H302.85ZM305.09 703.1H307.32V701.77H305.09ZM307.32 703.1H309.56V701.83H307.32ZM309.56 703.1H311.8V701.88H309.56ZM311.8 703.1H314.04V701.94H311.8ZM314.04 703.1H316.28V701.99H314.04ZM316.28 703.1H318.51V702.03H316.28ZM318.51 703.1H320.75V702.08H318.51ZM320.75 703.1H322.99V702.13H320.75ZM322.99 703.1H325.23V702.17H322.99ZM325.23 703.1H327.47V702.21H325.23ZM327.47 703.1H329.7V702.24H327.47ZM329.7 703.1H331.94V702.27H329.7ZM331.94 703.1H334.18V702.29H331.94ZM334.18 703.1H336.42V702.32H334.18ZM336.42 703.1H338.66V702.34H336.42ZM338.66 703.1H340.89V702.36H338.66ZM340.89 703.1H343.13V702.38H340.89ZM343.13 703.1H345.37V702.4H343.13ZM345.37 703.1H347.61V702.42H345.37ZM347.61 703.1H349.84V702.44H347.61ZM349.84 703.1H352.08V702.47H349.84ZM352.08 703.1H354.32V702.5H352.08ZM354.32 703.1H356.56V702.52H354.32ZM356.56 703.1H358.8V702.55H356.56ZM358.8 703.1H361.03V702.58H358.8ZM361.03 703.1H363.27V702.6H361.03ZM363.27 703.1H365.51V702.62H363.27ZM365.51 703.1H367.75V702.64H365.51ZM367.75 703.1H369.99V702.67H367.75Z"/>
<path class="seams" clip-path="url(#pf12d10b1b9)" d="M148.43 703.1V680.03M150.67 703.1V680.03M152.9 703.1V668.42M155.14 703.1V648.22M157.38 703.1V618.56M159.62 703.1V575.57M161.86 703.1V527.42M164.09 703.1V491.31M166.33 703.1V476.69M168.57 703.1V495.18M170.81 703.1V517.96M173.05 703.1V541.6M175.28 703.1V563.96M177.52 703.1V583.73M179.76 703.1V599.21M182 703.1V612.54M184.24 703.1V624.14M186.47 703.1V633.17M188.71 703.1V641.77M190.95 703.1V649.08M193.19 703.1V655.1M195.43 703.1V660.26M197.66 703.1V664.12M199.9 703.1V668.85M202.14 703.1V673.15M204.38 703.1V677.45M206.61 703.1V679.6M208.85 703.1V681.75M211.09 703.1V683.9M213.33 703.1V685.19M215.57 703.1V686.91M217.8 703.1V688.2M220.04 703.1V689.02M222.28 703.1V689.85M224.52 703.1V690.72M226.76 703.1V691.57M228.99 703.1V692.44M231.23 703.1V693.2M233.47 703.1V693.85M235.71 703.1V694.51M237.95 703.1V695.19M240.18 703.1V695.74M242.42 703.1V696.18M244.66 703.1V696.6M246.9 703.1V697.04M249.14 703.1V697.5M251.37 703.1V697.93M253.61 703.1V698.29M255.85 703.1V698.62M258.09 703.1V698.92M260.33 703.1V699.21M262.56 703.1V699.47M264.8 703.1V699.72M267.04 703.1V699.95M269.28 703.1V700.17M271.52 703.1V700.37M273.75 703.1V700.53M275.99 703.1V700.66M278.23 703.1V700.8M280.47 703.1V700.92M282.71 703.1V701.04M284.94 703.1V701.14M287.18 703.1V701.23M289.42 703.1V701.32M291.66 703.1V701.4M293.9 703.1V701.48M296.13 703.1V701.58M298.37 703.1V701.67M300.61 703.1V701.76M302.85 703.1V701.84M305.09 703.1V701.92M307.32 703.1V701.98M309.56 703.1V702.03M311.8 703.1V702.09M314.04 703.1V702.14M316.28 703.1V702.18M318.51 703.1V702.23M320.75 703.1V702.28M322.99 703.1V702.32M325.23 703.1V702.36M327.47 703.1V702.39M329.7 703.1V702.42M331.94 703.1V702.44M334.18 703.1V702.47M336.42 703.1V702.49M338.66 703.1V702.51M340.89 703.1V702.53M343.13 703.1V702.55M345.37 703.1V702.57M347.61 703.1V702.59M349.84 703.1V702.62M352.08 703.1V702.65M354.32 703.1V702.67M356.56 703.1V702.7M358.8 703.1V702.73M361.03 703.1V702.75M363.27 703.1V702.77M365.51 703.1V702.79M367.75 703.1V702.82"/>
<g id="matplotlib.axis_7">
<g id="xtick_19">
<g id="line2d_42">
<g>
<use href="#m1504cfccaf" x="146.19" y="703.1" />
</g>
</g>
<g id="text_46">
<text style="font-size: 10px; text-anchor: middle" x="146.19" y="718.49">0</text>
</g>
</g>
<g id="xtick_20">
<g id="line2d_43">
<g>
<use href="#m1504cfccaf" x="198.72" y="703.1" />
</g>
</g>
<g id="text_47">
<text style="font-size: 10px; text-anchor: middle" x="198.72" y="718.49">5000</text>
</g>
</g>
<g id="xtick_21">
<g id="line2d_44">
<g>
<use href="#m1504cfccaf" x="251.26" y="703.1" />
</g>
</g>
<g id="text_48">
<text style="font-size: 10px; text-anchor: middle" x="251.26" y="718.49">10000</text>
</g>
</g>
<g id="xtick_22">
<g id="line2d_45">
<g>
<use href="#m1504cfccaf" x="303.79" y="703.1" />
</g>
</g>
<g id="text_49">
<text style="font-size: 10px; text-anchor: middle" x="303.79" y="718.49">15000</text>
</g>
</g>
<g id="xtick_23">
<g id="line2d_46">
<g>
<use href="#m1504cfccaf" x="356.33" y="703.1" />
</g>
</g>
<g id="text_50">
<text style="font-size: 10px; text-anchor: middle" x="356.33" y="718.49">20000</text>
</g>
</g>
</g>
<g id="matplotlib.axis_8">
<g id="ytick_24">
<g id="line2d_47">
<g>
<use href="#m5d545ce8f8" x="135" y="703.1" />
</g>
</g>
<g id="text_51">
<text style="font-size: 10px; text-anchor: end" x="128" y="707.69">0</text>
</g>
</g>
<g id="ytick_25">
<g id="line2d_48">
<g>
<use href="#m5d545ce8f8" x="135" y="660.11" />
</g>
</g>
<g id="text_52">
<text style="font-size: 10px; text-anchor: end" x="128" y="664.71">100000</text>
</g>
</g>
<g id="ytick_26">
<g id="line2d_49">
<g>
<use href="#m5d545ce8f8" x="135" y="617.12" />
</g>
</g>
<g id="text_53">
<text style="font-size: 10px; text-anchor: end" x="128" y="621.72">200000</text>
</g>
</g>
<g id="ytick_27">
<g id="line2d_50">
<g>
<use href="#m5d545ce8f8" x="135" y="574.13" />
</g>
</g>
<g id="text_54">
<text style="font-size: 10px; text-anchor: end" x="128" y="578.73">300000</text>
</g>
</g>
<g id="ytick_28">
<g id="line2d_51">
<g>
<use href="#m5d545ce8f8" x="135" y="531.14" />
</g>
</g>
<g id="text_55">
<text style="font-size: 10px; text-anchor: end" x="128" y="535.74">400000</text>
</g>
</g>
<g id="ytick_29">
<g id="line2d_52">
<g>
<use href="#m5d545ce8f8" x="135" y="488.15" />
</g>
</g>
<g id="text_56">
<text style="font-size: 10px; text-anchor: end" x="128" y="492.75">500000</text>
</g>
</g>
</g>
<g id="patch_418">
<path d="M 135 703.1 
L 135 462.05 
" style="fill: none; stroke: #000000; stroke-width: 1; stroke-linejoin: miter; stroke-linecap: square"/>
</g>
<g id="patch_419">
<path d="M 381.18 703.1 
L 381.18 462.05 
" style="fill: none; stroke: #000000; stroke-width: 1; stroke-linejoin: miter; stroke-linecap: square"/>
</g>
<g id="patch_420">
<path d="M 135 703.1 
L 381.18 703.1 
" style="fill: none; stroke: #000000; stroke-width: 1; stroke-linejoin: miter; stroke-linecap: square"/>
</g>
<g id="patch_421">
<path d="M 135 462.05 
L 381.18 462.05 
" style="fill: none; stroke: #000000; stroke-width: 1; stroke-linejoin: miter; stroke-linecap: square"/>
</g>
<g id="text_57">
<text style="font-size: 12px; text-anchor: middle" x="258.09" y="456.85">wiki-rolling_nips</text>
</g>
</g>
<g id="axes_5">
<g id="patch_422">
<path d="M 430.41 703.1 
L 676.59 703.1 
L 676.59 462.05 
L 430.41 462.05 
z
" style="fill: #ffffff"/>
</g>
<path class="bars" clip-path="url(#p2f5e4bccb1)" d="M441.6 703.1H443.84V473.53H441.6ZM443.84 703.1H446.08V643.4H443.84ZM446.08 703.1H448.32V653.25H446.08ZM448.32 703.1H450.55V649.79H448.32ZM450.55 703.1H452.79V646.98H450.55ZM452.79 703.1H455.03V646.98H452.79ZM455.03 703.1H457.27V649.03H455.03ZM457.27 703.1H459.51V652.78H457.27ZM459.51 703.1H461.74V657.48H459.51ZM461.74 703.1H463.98V659.53H461.74ZM463.98 703.1H466.22V657.59H463.98ZM466.22 703.1H468.46V660.7H466.22ZM468.46 703.1H470.7V658.88H468.46ZM470.7 703.1H472.93V659.82H470.7ZM472.93 703.1H475.17V662.64H472.93ZM475.17 703.1H477.41V664.45H475.17ZM477.41 703.1H479.65V665.92H477.41ZM479.65 703.1H481.89V665.63H479.65ZM481.89 703.1H484.12V662.93H481.89ZM484.12 703.1H486.36V662.28H484.12ZM486.36 703.1H488.6V661.23H486.36ZM488.6 703.1H490.84V661.93H488.6ZM490.84 703.1H493.07V662.93H490.84ZM493.07 703.1H495.31V666.33H493.07ZM495.31 703.1H497.55V666.62H495.31ZM497.55 703.1H499.79V667.56H497.55ZM499.79 703.1H502.03V666.8H499.79ZM502.03 703.1H504.26V667.56H502.03ZM504.26 703.1H506.5V667.97H504.26ZM506.5 703.1H508.74V668.79H506.5ZM508.74 703.1H510.98V669.5H508.74ZM510.98 703.1H513.22V669.79H510.98ZM513.22 703.1H515.45V668.73H513.22ZM515.45 703.1H517.69V667.44H515.45ZM517.69 703.1H519.93V664.34H517.69ZM519.93 703.1H522.17V664.1H519.93ZM522.17 703.1H524.41V662.81H522.17ZM524.41 703.1H526.64V663.93H524.41ZM526.64 703.1H528.88V664.86H526.64ZM528.88 703.1H531.12V664.69H528.88ZM531.12 703.1H533.36V665.39H531.12ZM533.36 703.1H535.6V666.04H533.36ZM535.6 703.1H537.83V664.1H535.6ZM537.83 703.1H540.07V665.39H537.83ZM540.07 703.1H542.31V665.69H540.07ZM542.31 703.1H544.55V666.56H542.31ZM544.55 703.1H546.79V666.56H544.55ZM546.79 703.1H549.02V665.39H546.79ZM549.02 703.1H551.26V666.04H549.02ZM551.26 703.1H553.5V665.39H551.26ZM553.5 703.1H555.74V666.04H553.5ZM555.74 703.1H557.98V667.44H555.74ZM557.98 703.1H560.21V666.74H557.98ZM560.21 703.1H562.45V669.44H560.21ZM562.45 703.1H564.69V670.67H562.45ZM564.69 703.1H566.93V671.61H564.69ZM566.93 703.1H569.17V673.19H566.93ZM569.17 703.1H571.4V675.24H569.17ZM571.4 703.1H573.64V678.19H571.4ZM573.64 703.1H575.88V680.92H573.64ZM575.88 703.1H578.12V683.78H575.88ZM578.12 703.1H580.36V686.31H578.12ZM580.36 703.1H582.59V689.1H580.36ZM582.59 703.1H584.83V691.22H582.59ZM584.83 703.1H587.07V692.51H584.83ZM587.07 703.1H589.31V694.23H587.07ZM589.31 703.1H591.55V695.76H589.31ZM591.55 703.1H593.78V697.04H591.55ZM593.78 703.1H596.02V698.04H593.78ZM596.02 703.1H598.26V698.94H596.02ZM598.26 703.1H600.5V699.52H598.26ZM600.5 703.1H602.74V699.95H600.5ZM602.74 703.1H604.97V700.41H602.74ZM604.97 703.1H607.21V700.46H604.97ZM607.21 703.1H609.45V700.46H607.21ZM609.45 703.1H611.69V700.45H609.45ZM611.69 703.1H613.93V700.41H611.69ZM613.93 703.1H616.16V700.37H613.93ZM616.16 703.1H618.4V700.33H616.16ZM618.4 703.1H620.64V700.29H618.4ZM620.64 703.1H622.88V700.38H620.64ZM622.88 703.1H625.11V700.48H622.88ZM625.11 703.1H627.35V700.58H625.11ZM627.35 703.1H629.59V700.63H627.35ZM629.59 703.1H631.83V700.68H629.59ZM631.83 703.1H634.07V700.73H631.83ZM634.07 703.1H636.3V700.84H634.07ZM636.3 703.1H638.54V700.98H636.3ZM638.54 703.1H640.78V701.11H638.54ZM640.78 703.1H643.02V701.22H640.78ZM643.02 703.1H645.26V701.28H643.02ZM645.26 703.1H647.49V701.33H645.26ZM647.49 703.1H649.73V701.38H647.49ZM649.73 703.1H651.97V701.4H649.73ZM651.97 703.1H654.21V701.4H651.97ZM654.21 703.1H656.45V701.4H654.21ZM656.45 703.1H658.68V701.4H656.45ZM658.68 703.1H660.92V701.43H658.68ZM660.92 703.1H663.16V701.46H660.92ZM663.16 703.1H665.4V701.49H663.16Z"/>
<path class="seams" clip-path="url(#p2f5e4bccb1)" d="M443.84 703.1V643.55M446.08 703.1V653.4M448.32 703.1V653.4M450.55 703.1V649.94M452.79 703.1V647.13M455.03 703.1V649.18M457.27 703.1V652.93M459.51 703.1V657.63M461.74 703.1V659.68M463.98 703.1V659.68M466.22 703.1V660.85M468.46 703.1V660.85M470.7 703.1V659.97M472.93 703.1V662.79M475.17 703.1V664.6M477.41 703.1V666.07M479.65 703.1V666.07M481.89 703.1V665.78M484.12 703.1V663.08M486.36 703.1V662.43M488.6 703.1V662.08M490.84 703.1V663.08M493.07 703.1V666.48M495.31 703.1V666.77M497.55 703.1V667.71M499.79 703.1V667.71M502.03 703.1V667.71M504.26 703.1V668.12M506.5 703.1V668.94M508.74 703.1V669.65M510.98 703.1V669.94M513.22 703.1V669.94M515.45 703.1V668.88M517.69 703.1V667.59M519.93 703.1V664.49M522.17 703.1V664.25M524.41 703.1V664.08M526.64 703.1V665.01M528.88 703.1V665.01M531.12 703.1V665.54M533.36 703.1V666.19M535.6 703.1V666.19M537.83 703.1V665.54M540.07 703.1V665.84M542.31 703.1V666.71M544.55 703.1V666.71M546.79 703.1V666.71M549.02 703.1V666.19M551.26 703.1V666.19M553.5 703.1V666.19M555.74 703.1V667.59M557.98 703.1V667.59M560.21 703.1V669.59M562.45 703.1V670.82M564.69 703.1V671.76M566.93 703.1V673.34M569.17 703.1V675.39M571.4 703.1V678.34M573.64 703.1V681.07M575.88 703.1V683.93M578.12 703.1V686.46M580.36 703.1V689.25M582.59 703.1V691.37M584.83 703.1V692.66M587.07 703.1V694.38M589.31 703.1V695.91M591.55 703.1V697.19M593.78 703.1V698.19M596.02 703.1V699.09M598.26 703.1V699.67M600.5 703.1V700.1M602.74 703.1V700.56M604.97 703.1V700.61M607.21 703.1V700.61M609.45 703.1V700.61M611.69 703.1V700.6M613.93 703.1V700.56M616.16 703.1V700.52M618.4 703.1V700.48M620.64 703.1V700.53M622.88 703.1V700.63M625.11 703.1V700.73M627.35 703.1V700.78M629.59 703.1V700.83M631.83 703.1V700.88M634.07 703.1V700.99M636.3 703.1V701.13M638.54 703.1V701.26M640.78 703.1V701.37M643.02 703.1V701.43M645.26 703.1V701.48M647.49 703.1V701.53M649.73 703.1V701.55M651.97 703.1V701.55M654.21 703.1V701.55M656.45 703.1V701.55M658.68 703.1V701.58M660.92 703.1V701.61M663.16 703.1V701.64"/>
<g id="matplotlib.axis_9">
<g id="xtick_24">
<g id="line2d_53">
<g>
<use href="#m1504cfccaf" x="441.6" y="703.1" />
</g>
</g>
<g id="text_58">
<text style="font-size: 10px; text-anchor: middle" x="441.6" y="718.49">0</text>
</g>
</g>
<g id="xtick_25">
<g id="line2d_54">
<g>
<use href="#m1504cfccaf" x="484.47" y="703.1" />
</g>
</g>
<g id="text_59">
<text style="font-size: 10px; text-anchor: middle" x="484.47" y="718.49">50</text>
</g>
</g>
<g id="xtick_26">
<g id="line2d_55">
<g>
<use href="#m1504cfccaf" x="527.35" y="703.1" />
</g>
</g>
<g id="text_60">
<text style="font-size: 10px; text-anchor: middle" x="527.35" y="718.49">100</text>
</g>
</g>
<g id="xtick_27">
<g id="line2d_56">
<g>
<use href="#m1504cfccaf" x="570.22" y="703.1" />
</g>
</g>
<g id="text_61">
<text style="font-size: 10px; text-anchor: middle" x="570.22" y="718.49">150</text>
</g>
</g>
<g id="xtick_28">
<g id="line2d_57">
<g>
<use href="#m1504cfccaf" x="613.09" y="703.1" />
</g>
</g>
<g id="text_62">
<text style="font-size: 10px; text-anchor: middle" x="613.09" y="718.49">200</text>
</g>
</g>
<g id="xtick_29">
<g id="line2d_58">
<g>
<use href="#m1504cfccaf" x="655.97" y="703.1" />
</g>
</g>
<g id="text_63">
<text style="font-size: 10px; text-anchor: middle" x="655.97" y="718.49">250</text>
</g>
</g>
</g>
<g id="matplotlib.axis_10">
<g id="ytick_30">
<g id="line2d_59">
<g>
<use href="#m5d545ce8f8" x="430.41" y="703.1" />
</g>
</g>
<g id="text_64">
<text style="font-size: 10px; text-anchor: end" x="423.41" y="707.69">0</text>
</g>
</g>
<g id="ytick_31">
<g id="line2d_60">
<g>
<use href="#m5d545ce8f8" x="430.41" y="673.78" />
</g>
</g>
<g id="text_65">
<text style="font-size: 10px; text-anchor: end" x="423.41" y="678.38">5000</text>
</g>
</g>
<g id="ytick_32">
<g id="line2d_61">
<g>
<use href="#m5d545ce8f8" x="430.41" y="644.46" />
</g>
</g>
<g id="text_66">
<text style="font-size: 10px; text-anchor: end" x="423.41" y="649.06">10000</text>
</g>
</g>
<g id="ytick_33">
<g id="line2d_62">
<g>
<use href="#m5d545ce8f8" x="430.41" y="615.14" />
</g>
</g>
<g id="text_67">
<text style="font-size: 10px; text-anchor: end" x="423.41" y="619.74">15000</text>
</g>
</g>
<g id="ytick_34">
<g id="line2d_63">
<g>
<use href="#m5d545ce8f8" x="430.41" y="585.82" />
</g>
</g>
<g id="text_68">
<text style="font-size: 10px; text-anchor: end" x="423.41" y="590.42">20000</text>
</g>
</g>
<g id="ytick_35">
<g id="line2d_64">
<g>
<use href="#m5d545ce8f8" x="430.41" y="556.5" />
</g>
</g>
<g id="text_69">
<text style="font-size: 10px; text-anchor: end" x="423.41" y="561.1">25000</text>
</g>
</g>
<g id="ytick_36">
<g id="line2d_65">
<g>
<use href="#m5d545ce8f8" x="430.41" y="527.18" />
</g>
</g>
<g id="text_70">
<text style="font-size: 10px; text-anchor: end" x="423.41" y="531.78">30000</text>
</g>
</g>
<g id="ytick_37">
<g id="line2d_66">
<g>
<use href="#m5d545ce8f8" x="430.41" y="497.86" />
</g>
</g>
<g id="text_71">
<text style="font-size: 10px; text-anchor: end" x="423.41" y="502.46">35000</text>
</g>
</g>
<g id="ytick_38">
<g id="line2d_67">
<g>
<use href="#m5d545ce8f8" x="430.41" y="468.55" />
</g>
</g>
<g id="text_72">
<text style="font-size: 10px; text-anchor: end" x="423.41" y="473.15">40000</text>
</g>
</g>
</g>
<g id="patch_523">
<path d="M 430.41 703.1 
L 430.41 462.05 
" style="fill: none; stroke: #000000; stroke-width: 1; stroke-linejoin: miter; stroke-linecap: square"/>
</g>
<g id="patch_524">
<path d="M 676.59 703.1 
L 676.59 462.05 
" style="fill: none; stroke: #000000; stroke-width: 1; stroke-linejoin: miter; stroke-linecap: square"/>
</g>
<g id="patch_525">
<path d="M 430.41 703.1 
L 676.59 703.1 
" style="fill: none; stroke: #000000; stroke-width: 1; stroke-linejoin: miter; stroke-linecap: square"/>
</g>
<g id="patch_526">
<path d="M 430.41 462.05 
L 676.59 462.05 
" style="fill: none; stroke: #000000; stroke-width: 1; stroke-linejoin: miter; stroke-linecap: square"/>
</g>
<g id="text_73">
<text style="font-size: 12px; text-anchor: middle" x="553.5" y="456.85">solar-energy</text>
</g>
</g>
<g id="axes_6">
<g id="patch_527">
<path d="M 725.82 703.1 
L 972 703.1 
L 972 462.05 
L 725.82 462.05 
z
" style="fill: #ffffff"/>
</g>
<path class="bars" clip-path="url(#p37502fa269)" d="M737.01 703.1H739.25V473.53H737.01ZM748.2 703.1H750.44V593.61H748.2ZM750.44 703.1H752.68V673.26H750.44ZM752.68 703.1H754.92V649.69H752.68ZM754.92 703.1H757.16V692.88H754.92ZM757.16 703.1H759.39V687.4H757.16ZM759.39 703.1H761.63V695.23H759.39ZM781.77 703.1H784.01V699.16H781.77ZM784.01 703.1H786.25V696.02H784.01ZM786.25 703.1H788.49V699.65H786.25ZM788.49 703.1H790.72V699.16H788.49ZM790.72 703.1H792.96V699.16H790.72ZM792.96 703.1H795.2V694.13H792.96ZM795.2 703.1H797.44V683.92H795.2ZM797.44 703.1H799.68V669.63H797.44ZM799.68 703.1H801.91V667.77H799.68ZM801.91 703.1H804.15V643.11H801.91ZM804.15 703.1H806.39V647.8H804.15ZM806.39 703.1H808.63V658.32H806.39ZM808.63 703.1H810.87V653.78H808.63ZM810.87 703.1H813.1V636.34H810.87ZM813.1 703.1H815.34V634.45H813.1ZM815.34 703.1H817.58V637.93H815.34ZM817.58 703.1H819.82V626.13H817.58ZM819.82 703.1H822.06V637.14H819.82ZM822.06 703.1H824.29V647.35H822.06ZM824.29 703.1H826.53V644.21H824.29ZM826.53 703.1H828.77V645.31H826.53ZM828.77 703.1H831.01V665.39H828.77ZM831.01 703.1H833.25V672.46H831.01ZM833.25 703.1H835.48V679.23H833.25ZM835.48 703.1H837.72V672.01H835.48ZM837.72 703.1H839.96V686.11H837.72ZM839.96 703.1H842.2V691.33H839.96ZM842.2 703.1H844.44V688.95H842.2ZM844.44 703.1H846.67V687.97H844.44ZM846.67 703.1H848.91V686H846.67ZM848.91 703.1H851.15V684.41H848.91ZM851.15 703.1H853.39V686.3H851.15ZM853.39 703.1H855.63V689.44H853.39ZM855.63 703.1H857.86V692.88H855.63ZM857.86 703.1H860.1V696.52H857.86ZM860.1 703.1H862.34V698.86H860.1ZM862.34 703.1H864.58V700.9H862.34ZM864.58 703.1H866.82V702H864.58ZM866.82 703.1H869.05V702.45H866.82ZM869.05 703.1H871.29V702.79H869.05ZM871.29 703.1H873.53V702.64H871.29ZM873.53 703.1H875.77V702.94H873.53ZM898.15 703.1H900.39V700.75H898.15ZM900.39 703.1H902.62V696.97H900.39ZM902.62 703.1H904.86V696.78H902.62ZM904.86 703.1H907.1V697.91H904.86ZM907.1 703.1H909.34V696.02H907.1ZM909.34 703.1H911.57V695.27H909.34ZM911.57 703.1H913.81V695.27H911.57ZM913.81 703.1H916.05V689.9H913.81ZM916.05 703.1H918.29V689.9H916.05ZM918.29 703.1H920.53V688.01H918.29ZM920.53 703.1H922.76V686.8H920.53ZM922.76 703.1H925V686.8H922.76ZM925 703.1H927.24V690.35H925ZM927.24 703.1H929.48V695.53H927.24ZM929.48 703.1H931.72V697.91H929.48ZM931.72 703.1H933.95V700.75H931.72ZM933.95 703.1H936.19V700.75H933.95ZM936.19 703.1H938.43V698.1H936.19ZM938.43 703.1H940.67V698.86H938.43ZM940.67 703.1H942.91V699.31H940.67ZM942.91 703.1H945.14V699.31H942.91ZM945.14 703.1H947.38V698.37H945.14ZM947.38 703.1H949.62V699.31H947.38ZM949.62 703.1H951.86V699.31H949.62ZM951.86 703.1H954.1V698.37H951.86ZM954.1 703.1H956.33V699.31H954.1ZM956.33 703.1H958.57V700.75H956.33ZM958.57 703.1H960.81V702.15H958.57Z"/>
<path class="seams" clip-path="url(#p37502fa269)" d="M750.44 703.1V673.41M752.68 703.1V673.41M754.92 703.1V693.03M757.16 703.1V693.03M759.39 703.1V695.38M784.01 703.1V699.31M786.25 703.1V699.8M788.49 703.1V699.8M790.72 703.1V699.31M792.96 703.1V699.31M795.2 703.1V694.28M797.44 703.1V684.07M799.68 703.1V669.78M801.91 703.1V667.92M804.15 703.1V647.95M806.39 703.1V658.47M808.63 703.1V658.47M810.87 703.1V653.93M813.1 703.1V636.49M815.34 703.1V638.08M817.58 703.1V638.08M819.82 703.1V637.29M822.06 703.1V647.5M824.29 703.1V647.5M826.53 703.1V645.46M828.77 703.1V665.54M831.01 703.1V672.61M833.25 703.1V679.38M835.48 703.1V679.38M837.72 703.1V686.26M839.96 703.1V691.48M842.2 703.1V691.48M844.44 703.1V689.1M846.67 703.1V688.12M848.91 703.1V686.15M851.15 703.1V686.45M853.39 703.1V689.59M855.63 703.1V693.03M857.86 703.1V696.67M860.1 703.1V699.01M862.34 703.1V701.05M864.58 703.1V702.15M866.82 703.1V702.6M869.05 703.1V702.94M871.29 703.1V702.94M900.39 703.1V700.9M902.62 703.1V697.12M904.86 703.1V698.06M907.1 703.1V698.06M909.34 703.1V696.17M911.57 703.1V695.42M913.81 703.1V695.42M916.05 703.1V690.05M918.29 703.1V690.05M920.53 703.1V688.16M922.76 703.1V686.95M925 703.1V690.5M927.24 703.1V695.68M929.48 703.1V698.06M931.72 703.1V700.9M933.95 703.1V700.9M936.19 703.1V700.9M938.43 703.1V699.01M940.67 703.1V699.46M942.91 703.1V699.46M945.14 703.1V699.46M947.38 703.1V699.46M949.62 703.1V699.46M951.86 703.1V699.46M954.1 703.1V699.46M956.33 703.1V700.9M958.57 703.1V702.3"/>
<g id="matplotlib.axis_11">
<g id="xtick_30">
<g id="line2d_68">
<g>
<use href="#m1504cfccaf" x="736.86" y="703.1" />
</g>
</g>
<g id="text_74">
<text style="font-size: 10px; text-anchor: middle" x="736.86" y="718.49">0.0</text>
</g>
</g>
<g id="xtick_31">
<g id="line2d_69">
<g>
<use href="#m1504cfccaf" x="794.51" y="703.1" />
</g>
</g>
<g id="text_75">
<text style="font-size: 10px; text-anchor: middle" x="794.51" y="718.49">0.5</text>
</g>
</g>
<g id="xtick_32">
<g id="line2d_70">
<g>
<use href="#m1504cfccaf" x="852.15" y="703.1" />
</g>
</g>
<g id="text_76">
<text style="font-size: 10px; text-anchor: middle" x="852.15" y="718.49">1.0</text>
</g>
</g>
<g id="xtick_33">
<g id="line2d_71">
<g>
<use href="#m1504cfccaf" x="909.8" y="703.1" />
</g>
</g>
<g id="text_77">
<text style="font-size: 10px; text-anchor: middle" x="909.8" y="718.49">1.5</text>
</g>
</g>
<g id="xtick_34">
<g id="line2d_72">
<g>
<use href="#m1504cfccaf" x="967.44" y="703.1" />
</g>
</g>
<g id="text_78">
<text style="font-size: 10px; text-anchor: middle" x="967.44" y="718.49">2.0</text>
</g>
</g>
</g>
<g id="matplotlib.axis_12">
<g id="ytick_39">
<g id="line2d_73">
<g>
<use href="#m5d545ce8f8" x="725.82" y="703.1" />
</g>
</g>
<g id="text_79">
<text style="font-size: 10px; text-anchor: end" x="718.82" y="707.69">0</text>
</g>
</g>
<g id="ytick_40">
<g id="line2d_74">
<g>
<use href="#m5d545ce8f8" x="725.82" y="665.28" />
</g>
</g>
<g id="text_80">
<text style="font-size: 10px; text-anchor: end" x="718.82" y="669.88">1000</text>
</g>
</g>
<g id="ytick_41">
<g id="line2d_75">
<g>
<use href="#m5d545ce8f8" x="725.82" y="627.46" />
</g>
</g>
<g id="text_81">
<text style="font-size: 10px; text-anchor: end" x="718.82" y="632.06">2000</text>
</g>
</g>
<g id="ytick_42">
<g id="line2d_76">
<g>
<use href="#m5d545ce8f8" x="725.82" y="589.64" />
</g>
</g>
<g id="text_82">
<text style="font-size: 10px; text-anchor: end" x="718.82" y="594.24">3000</text>
</g>
</g>
<g id="ytick_43">
<g id="line2d_77">
<g>
<use href="#m5d545ce8f8" x="725.82" y="551.82" />
</g>
</g>
<g id="text_83">
<text style="font-size: 10px; text-anchor: end" x="718.82" y="556.42">4000</text>
</g>
</g>
<g id="ytick_44">
<g id="line2d_78">
<g>
<use href="#m5d545ce8f8" x="725.82" y="514" />
</g>
</g>
<g id="text_84">
<text style="font-size: 10px; text-anchor: end" x="718.82" y="518.6">5000</text>
</g>
</g>
<g id="ytick_45">
<g id="line2d_79">
<g>
<use href="#m5d545ce8f8" x="725.82" y="476.18" />
</g>
</g>
<g id="text_85">
<text style="font-size: 10px; text-anchor: end" x="718.82" y="480.78">6000</text>
</g>
</g>
</g>
<g id="patch_628">
<path d="M 725.82 703.1 
L 725.82 462.05 
" style="fill: none; stroke: #000000; stroke-width: 1; stroke-linejoin: miter; stroke-linecap: square"/>
</g>
<g id="patch_629">
<path d="M 972 703.1 
L 972 462.05 
" style="fill: none; stroke: #000000; stroke-width: 1; stroke-linejoin: miter; stroke-linecap: square"/>
</g>
<g id="patch_630">
<path d="M 725.82 703.1 
L 972 703.1 
" style="fill: none; stroke: #000000; stroke-width: 1; stroke-linejoin: miter; stroke-linecap: square"/>
</g>
<g id="patch_631">
<path d="M 725.82 462.05 
L 972 462.05 
" style="fill: none; stroke: #000000; stroke-width: 1; stroke-linejoin: miter; stroke-linecap: square"/>
</g>
<g id="text_86">
<text style="font-size: 12px; text-anchor: middle" x="848.91" y="456.85">exchange_rate</text>
</g>
</g>
<g id="axes_7">
<g id="patch_632">
<path d="M 135 992.35 
L 381.18 992.35 
L 381.18 751.3 
L 135 751.3 
z
" style="fill: #ffffff"/>
</g>
<path class="bars" clip-path="url(#pc1a973a570)" d="M146.19 992.35H148.43V762.78H146.19ZM148.43 992.35H150.67V980.42H148.43ZM150.67 992.35H152.9V984.42H150.67ZM152.9 992.35H155.14V988.18H152.9ZM155.14 992.35H157.38V990.3H155.14ZM157.38 992.35H159.62V991.12H157.38ZM159.62 992.35H161.86V991.61H159.62ZM161.86 992.35H164.09V991.94H161.86ZM164.09 992.35H166.33V991.99H164.09ZM166.33 992.35H168.57V992.03H166.33ZM168.57 992.35H170.81V992.06H168.57ZM170.81 992.35H173.05V992.07H170.81ZM173.05 992.35H175.28V992.08H173.05ZM175.28 992.35H177.52V992.09H175.28ZM177.52 992.35H179.76V992.1H177.52ZM179.76 992.35H182V992.11H179.76ZM182 992.35H184.24V992.11H182ZM184.24 992.35H186.47V992.12H184.24ZM186.47 992.35H188.71V992.13H186.47ZM188.71 992.35H190.95V992.14H188.71ZM190.95 992.35H193.19V992.14H190.95ZM193.19 992.35H195.43V992.15H193.19ZM195.43 992.35H197.66V992.15H195.43ZM197.66 992.35H199.9V992.16H197.66ZM199.9 992.35H202.14V992.16H199.9ZM202.14 992.35H204.38V992.17H202.14ZM204.38 992.35H206.61V992.17H204.38ZM206.61 992.35H208.85V992.17H206.61ZM208.85 992.35H211.09V992.18H208.85ZM211.09 992.35H213.33V992.18H211.09ZM213.33 992.35H215.57V992.18H213.33ZM215.57 992.35H217.8V992.2H215.57ZM217.8 992.35H220.04V992.21H217.8ZM220.04 992.35H222.28V992.22H220.04ZM222.28 992.35H224.52V992.23H222.28ZM224.52 992.35H226.76V992.24H224.52ZM226.76 992.35H228.99V992.25H226.76ZM228.99 992.35H231.23V992.26H228.99ZM231.23 992.35H233.47V992.27H231.23ZM233.47 992.35H235.71V992.28H233.47ZM235.71 992.35H237.95V992.28H235.71ZM237.95 992.35H240.18V992.28H237.95ZM240.18 992.35H242.42V992.29H240.18ZM242.42 992.35H244.66V992.29H242.42ZM244.66 992.35H246.9V992.29H244.66ZM246.9 992.35H249.14V992.29H246.9ZM249.14 992.35H251.37V992.29H249.14ZM251.37 992.35H253.61V992.3H251.37ZM253.61 992.35H255.85V992.3H253.61ZM255.85 992.35H258.09V992.3H255.85ZM258.09 992.35H260.33V992.3H258.09ZM260.33 992.35H262.56V992.3H260.33ZM262.56 992.35H264.8V992.3H262.56ZM264.8 992.35H267.04V992.31H264.8ZM267.04 992.35H269.28V992.31H267.04ZM269.28 992.35H271.52V992.31H269.28ZM271.52 992.35H273.75V992.31H271.52ZM273.75 992.35H275.99V992.31H273.75ZM275.99 992.35H278.23V992.31H275.99ZM278.23 992.35H280.47V992.31H278.23ZM280.47 992.35H282.71V992.32H280.47ZM282.71 992.35H284.94V992.32H282.71ZM284.94 992.35H287.18V992.32H284.94ZM287.18 992.35H289.42V992.32H287.18ZM289.42 992.35H291.66V992.32H289.42ZM291.66 992.35H293.9V992.32H291.66ZM293.9 992.35H296.13V992.32H293.9ZM296.13 992.35H298.37V992.32H296.13ZM298.37 992.35H300.61V992.32H298.37ZM300.61 992.35H302.85V992.32H300.61ZM302.85 992.35H305.09V992.32H302.85ZM305.09 992.35H307.32V992.32H305.09ZM307.32 992.35H309.56V992.32H307.32ZM309.56 992.35H311.8V992.32H309.56ZM311.8 992.35H314.04V992.32H311.8ZM314.04 992.35H316.28V992.32H314.04ZM316.28 992.35H318.51V992.32H316.28ZM318.51 992.35H320.75V992.32H318.51ZM320.75 992.35H322.99V992.32H320.75ZM322.99 992.35H325.23V992.32H322.99ZM325.23 992.35H327.47V992.32H325.23ZM327.47 992.35H329.7V992.33H327.47ZM329.7 992.35H331.94V992.33H329.7ZM331.94 992.35H334.18V992.33H331.94ZM334.18 992.35H336.42V992.33H334.18ZM336.42 992.35H338.66V992.33H336.42ZM338.66 992.35H340.89V992.33H338.66ZM340.89 992.35H343.13V992.33H340.89ZM343.13 992.35H345.37V992.33H343.13ZM345.37 992.35H347.61V992.33H345.37ZM347.61 992.35H349.84V992.33H347.61ZM349.84 992.35H352.08V992.33H349.84ZM352.08 992.35H354.32V992.33H352.08ZM354.32 992.35H356.56V992.33H354.32ZM356.56 992.35H358.8V992.33H356.56ZM358.8 992.35H361.03V992.33H358.8ZM361.03 992.35H363.27V992.33H361.03ZM363.27 992.35H365.51V992.33H363.27ZM365.51 992.35H367.75V992.33H365.51ZM367.75 992.35H369.99V992.33H367.75Z"/>
<path class="seams" clip-path="url(#pc1a973a570)" d="M148.43 992.35V980.57M150.67 992.35V984.57M152.9 992.35V988.33M155.14 992.35V990.45M157.38 992.35V991.27M159.62 992.35V991.76M161.86 992.35V992.09M164.09 992.35V992.14M166.33 992.35V992.18"/>
<g id="matplotlib.axis_13">
<g id="xtick_35">
<g id="line2d_80">
<g>
<use href="#m1504cfccaf" x="146.19" y="992.35" />
</g>
</g>
<g id="text_87">
<text style="font-size: 10px; text-anchor: middle" x="146.19" y="1007.75">0</text>
</g>
</g>
<g id="xtick_36">
<g id="line2d_81">
<g>
<use href="#m1504cfccaf" x="192.29" y="992.35" />
</g>
</g>
<g id="text_88">
<text style="font-size: 10px; text-anchor: middle" x="192.29" y="1007.75">20000</text>
</g>
</g>
<g id="xtick_37">
<g id="line2d_82">
<g>
<use href="#m1504cfccaf" x="238.38" y="992.35" />
</g>
</g>
<g id="text_89">
<text style="font-size: 10px; text-anchor: middle" x="238.38" y="1007.75">40000</text>
</g>
</g>
<g id="xtick_38">
<g id="line2d_83">
<g>
<use href="#m1504cfccaf" x="284.48" y="992.35" />
</g>
</g>
<g id="text_90">
<text style="font-size: 10px; text-anchor: middle" x="284.48" y="1007.75">60000</text>
</g>
</g>
<g id="xtick_39">
<g id="line2d_84">
<g>
<use href="#m1504cfccaf" x="330.57" y="992.35" />
</g>
</g>
<g id="text_91">
<text style="font-size: 10px; text-anchor: middle" x="330.57" y="1007.75">80000</text>
</g>
</g>
<g id="xtick_40">
<g id="line2d_85">
<g>
<use href="#m1504cfccaf" x="376.67" y="992.35" />
</g>
</g>
<g id="text_92">
<text style="font-size: 10px; text-anchor: middle" x="376.67" y="1007.75">100000</text>
</g>
</g>
</g>
<g id="matplotlib.axis_14">
<g id="ytick_46">
<g id="line2d_86">
<g>
<use href="#m5d545ce8f8" x="135" y="992.35" />
</g>
</g>
<g id="text_93">
<text style="font-size: 10px; text-anchor: end" x="128" y="996.95">0</text>
</g>
</g>
<g id="ytick_47">
<g id="line2d_87">
<g>
<use href="#m5d545ce8f8" x="135" y="951.49" />
</g>
</g>
<g id="text_94">
<text style="font-size: 10px; text-anchor: end" x="128" y="956.08">50000</text>
</g>
</g>
<g id="ytick_48">
<g id="line2d_88">
<g>
<use href="#m5d545ce8f8" x="135" y="910.62" />
</g>
</g>
<g id="text_95">
<text style="font-size: 10px; text-anchor: end" x="128" y="915.22">100000</text>
</g>
</g>
<g id="ytick_49">
<g id="line2d_89">
<g>
<use href="#m5d545ce8f8" x="135" y="869.76" />
</g>
</g>
<g id="text_96">
<text style="font-size: 10px; text-anchor: end" x="128" y="874.36">150000</text>
</g>
</g>
<g id="ytick_50">
<g id="line2d_90">
<g>
<use href="#m5d545ce8f8" x="135" y="828.9" />
</g>
</g>
<g id="text_97">
<text style="font-size: 10px; text-anchor: end" x="128" y="833.5">200000</text>
</g>
</g>
<g id="ytick_51">
<g id="line2d_91">
<g>
<use href="#m5d545ce8f8" x="135" y="788.04" />
</g>
</g>
<g id="text_98">
<text style="font-size: 10px; text-anchor: end" x="128" y="792.63">250000</text>
</g>
</g>
</g>
<g id="patch_733">
<path d="M 135 992.35 
L 135 751.3 
" style="fill: none; stroke: #000000; stroke-width: 1; stroke-linejoin: miter; stroke-linecap: square"/>
</g>
<g id="patch_734">
<path d="M 381.18 992.35 
L 381.18 751.3 
" style="fill: none; stroke: #000000; stroke-width: 1; stroke-linejoin: miter; stroke-linecap: square"/>
</g>
<g id="patch_735">
<path d="M 135 992.35 
L 381.18 992.35 
" style="fill: none; stroke: #000000; stroke-width: 1; stroke-linejoin: miter; stroke-linecap: square"/>
</g>
<g id="patch_736">
<path d="M 135 751.3 
L 381.18 751.3 
" style="fill: none; stroke: #000000; stroke-width: 1; stroke-linejoin: miter; stroke-linecap: square"/>
</g>
<g id="text_99">
<text style="font-size: 12px; text-anchor: middle" x="258.09" y="746.1">m4_hourly</text>
</g>
</g>
<g id="axes_8">
<g id="patch_737">
<path d="M 430.41 992.35 
L 676.59 992.35 
L 676.59 751.3 
L 430.41 751.3 
z
" style="fill: #ffffff"/>
</g>
<path class="bars" clip-path="url(#p3985819a6a)" d="M441.6 992.35H443.84V991.58H441.6ZM443.84 992.35H446.08V985.04H443.84ZM446.08 992.35H448.32V967.74H446.08ZM448.32 992.35H450.55V932.36H448.32ZM450.55 992.35H452.79V876.99H450.55ZM452.79 992.35H455.03V804.31H452.79ZM455.03 992.35H457.27V762.78H455.03ZM457.27 992.35H459.51V817.39H457.27ZM459.51 992.35H461.74V856.22H459.51ZM461.74 992.35H463.98V885.83H461.74ZM463.98 992.35H466.22V910.44H463.98ZM466.22 992.35H468.46V926.98H466.22ZM468.46 992.35H470.7V938.32H468.46ZM470.7 992.35H472.93V947.74H470.7ZM472.93 992.35H475.17V952.86H472.93ZM475.17 992.35H477.41V956.16H475.17ZM477.41 992.35H479.65V956.82H477.41ZM479.65 992.35H481.89V960.35H479.65ZM481.89 992.35H484.12V960.35H481.89ZM484.12 992.35H486.36V961.74H484.12ZM486.36 992.35H488.6V961.09H486.36ZM488.6 992.35H490.84V960.85H488.6ZM490.84 992.35H493.07V961.32H490.84ZM493.07 992.35H495.31V960.16H493.07ZM495.31 992.35H497.55V958.97H495.31ZM497.55 992.35H499.79V958.01H497.55ZM499.79 992.35H502.03V957.59H499.79ZM502.03 992.35H504.26V957.09H502.03ZM504.26 992.35H506.5V956.62H504.26ZM506.5 992.35H508.74V956.16H506.5ZM508.74 992.35H510.98V955.51H508.74ZM510.98 992.35H513.22V954.74H510.98ZM513.22 992.35H515.45V952.86H513.22ZM515.45 992.35H517.69V951.51H515.45ZM517.69 992.35H519.93V951.51H517.69ZM519.93 992.35H522.17V950.82H519.93ZM522.17 992.35H524.41V950.51H522.17ZM524.41 992.35H526.64V950.24H524.41ZM526.64 992.35H528.88V950.05H526.64ZM528.88 992.35H531.12V949.16H528.88ZM531.12 992.35H533.36V948.7H531.12ZM533.36 992.35H535.6V948.01H533.36ZM535.6 992.35H537.83V948.67H535.6ZM537.83 992.35H540.07V949.55H537.83ZM540.07 992.35H542.31V950.05H540.07ZM542.31 992.35H544.55V950.13H542.31ZM544.55 992.35H546.79V950.97H544.55ZM546.79 992.35H549.02V952.13H546.79ZM549.02 992.35H551.26V952.7H549.02ZM551.26 992.35H553.5V952.43H551.26ZM553.5 992.35H555.74V951.74H553.5ZM555.74 992.35H557.98V952.13H555.74ZM557.98 992.35H560.21V952.43H557.98ZM560.21 992.35H562.45V950.47H560.21ZM562.45 992.35H564.69V949.55H562.45ZM564.69 992.35H566.93V949.16H564.69ZM566.93 992.35H569.17V948.4H566.93ZM569.17 992.35H571.4V947.24H569.17ZM571.4 992.35H573.64V946.78H571.4ZM573.64 992.35H575.88V946.13H573.64ZM575.88 992.35H578.12V945.17H575.88ZM578.12 992.35H580.36V948.67H578.12ZM580.36 992.35H582.59V951.51H580.36ZM582.59 992.35H584.83V954.55H582.59ZM584.83 992.35H587.07V957.09H584.83ZM587.07 992.35H589.31V958.97H587.07ZM589.31 992.35H591.55V960.82H589.31ZM591.55 992.35H593.78V962.66H591.55ZM593.78 992.35H596.02V964.58H593.78ZM596.02 992.35H598.26V965.78H596.02ZM598.26 992.35H600.5V967.74H598.26ZM600.5 992.35H602.74V968.97H600.5ZM602.74 992.35H604.97V970.35H602.74ZM604.97 992.35H607.21V971.74H604.97ZM607.21 992.35H609.45V973.66H607.21ZM609.45 992.35H611.69V975.51H609.45ZM611.69 992.35H613.93V976.89H611.69ZM613.93 992.35H616.16V977.81H613.93ZM616.16 992.35H618.4V978.58H616.16ZM618.4 992.35H620.64V979.24H618.4ZM620.64 992.35H622.88V980.16H620.64ZM622.88 992.35H625.11V980.81H622.88ZM625.11 992.35H627.35V981.47H625.11ZM627.35 992.35H629.59V982.12H627.35ZM629.59 992.35H631.83V982.89H629.59ZM631.83 992.35H634.07V983.54H631.83ZM634.07 992.35H636.3V984.2H634.07ZM636.3 992.35H638.54V984.89H636.3ZM638.54 992.35H640.78V985.54H638.54ZM640.78 992.35H643.02V986.12H640.78ZM643.02 992.35H645.26V986.77H643.02ZM645.26 992.35H647.49V987.27H645.26ZM647.49 992.35H649.73V987.69H647.49ZM649.73 992.35H651.97V987.93H649.73ZM651.97 992.35H654.21V988.31H651.97ZM654.21 992.35H656.45V988.66H654.21ZM656.45 992.35H658.68V988.96H656.45ZM658.68 992.35H660.92V989.12H658.68ZM660.92 992.35H663.16V989.31H660.92ZM663.16 992.35H665.4V989.31H663.16Z"/>
<path class="seams" clip-path="url(#p3985819a6a)" d="M443.84 992.35V991.73M446.08 992.35V985.19M448.32 992.35V967.89M450.55 992.35V932.51M452.79 992.35V877.14M455.03 992.35V804.46M457.27 992.35V817.54M459.51 992.35V856.37M461.74 992.35V885.98M463.98 992.35V910.59M466.22 992.35V927.13M468.46 992.35V938.47M470.7 992.35V947.89M472.93 992.35V953.01M475.17 992.35V956.31M477.41 992.35V956.97M479.65 992.35V960.5M481.89 992.35V960.5M484.12 992.35V961.89M486.36 992.35V961.89M488.6 992.35V961.24M490.84 992.35V961.47M493.07 992.35V961.47M495.31 992.35V960.31M497.55 992.35V959.12M499.79 992.35V958.16M502.03 992.35V957.74M504.26 992.35V957.24M506.5 992.35V956.77M508.74 992.35V956.31M510.98 992.35V955.66M513.22 992.35V954.89M515.45 992.35V953.01M517.69 992.35V951.66M519.93 992.35V951.66M522.17 992.35V950.97M524.41 992.35V950.66M526.64 992.35V950.39M528.88 992.35V950.2M531.12 992.35V949.31M533.36 992.35V948.85M535.6 992.35V948.82M537.83 992.35V949.7M540.07 992.35V950.2M542.31 992.35V950.28M544.55 992.35V951.12M546.79 992.35V952.28M549.02 992.35V952.85M551.26 992.35V952.85M553.5 992.35V952.58M555.74 992.35V952.28M557.98 992.35V952.58M560.21 992.35V952.58M562.45 992.35V950.62M564.69 992.35V949.7M566.93 992.35V949.31M569.17 992.35V948.55M571.4 992.35V947.39M573.64 992.35V946.93M575.88 992.35V946.28M578.12 992.35V948.82M580.36 992.35V951.66M582.59 992.35V954.7M584.83 992.35V957.24M587.07 992.35V959.12M589.31 992.35V960.97M591.55 992.35V962.81M593.78 992.35V964.73M596.02 992.35V965.93M598.26 992.35V967.89M600.5 992.35V969.12M602.74 992.35V970.5M604.97 992.35V971.89M607.21 992.35V973.81M609.45 992.35V975.66M611.69 992.35V977.04M613.93 992.35V977.96M616.16 992.35V978.73M618.4 992.35V979.39M620.64 992.35V980.31M622.88 992.35V980.96M625.11 992.35V981.62M627.35 992.35V982.27M629.59 992.35V983.04M631.83 992.35V983.69M634.07 992.35V984.35M636.3 992.35V985.04M638.54 992.35V985.69M640.78 992.35V986.27M643.02 992.35V986.92M645.26 992.35V987.42M647.49 992.35V987.84M649.73 992.35V988.08M651.97 992.35V988.46M654.21 992.35V988.81M656.45 992.35V989.11M658.68 992.35V989.27M660.92 992.35V989.46M663.16 992.35V989.46"/>
<g id="matplotlib.axis_15">
<g id="xtick_41">
<g id="line2d_92">
<g>
<use href="#m1504cfccaf" x="441.6" y="992.35" />
</g>
</g>
<g id="text_100">
<text style="font-size: 10px; text-anchor: middle" x="441.6" y="1007.75">0</text>
</g>
</g>
<g id="xtick_42">
<g id="line2d_93">
<g>
<use href="#m1504cfccaf" x="475.65" y="992.35" />
</g>
</g>
<g id="text_101">
<text style="font-size: 10px; text-anchor: middle" x="475.65" y="1007.75">2500</text>
</g>
</g>
<g id="xtick_43">
<g id="line2d_94">
<g>
<use href="#m1504cfccaf" x="509.71" y="992.35" />
</g>
</g>
<g id="text_102">
<text style="font-size: 10px; text-anchor: middle" x="509.71" y="1007.75">5000</text>
</g>
</g>
<g id="xtick_44">
<g id="line2d_95">
<g>
<use href="#m1504cfccaf" x="543.76" y="992.35" />
</g>
</g>
<g id="text_103">
<text style="font-size: 10px; text-anchor: middle" x="543.76" y="1007.75">7500</text>
</g>
</g>
<g id="xtick_45">
<g id="line2d_96">
<g>
<use href="#m1504cfccaf" x="577.81" y="992.35" />
</g>
</g>
<g id="text_104">
<text style="font-size: 10px; text-anchor: middle" x="577.81" y="1007.75">10000</text>
</g>
</g>
<g id="xtick_46">
<g id="line2d_97">
<g>
<use href="#m1504cfccaf" x="611.87" y="992.35" />
</g>
</g>
<g id="text_105">
<text style="font-size: 10px; text-anchor: middle" x="611.87" y="1007.75">12500</text>
</g>
</g>
<g id="xtick_47">
<g id="line2d_98">
<g>
<use href="#m1504cfccaf" x="645.92" y="992.35" />
</g>
</g>
<g id="text_106">
<text style="font-size: 10px; text-anchor: middle" x="645.92" y="1007.75">15000</text>
</g>
</g>
</g>
<g id="matplotlib.axis_16">
<g id="ytick_52">
<g id="line2d_99">
<g>
<use href="#m5d545ce8f8" x="430.41" y="992.35" />
</g>
</g>
<g id="text_107">
<text style="font-size: 10px; text-anchor: end" x="423.41" y="996.95">0</text>
</g>
</g>
<g id="ytick_53">
<g id="line2d_100">
<g>
<use href="#m5d545ce8f8" x="430.41" y="953.89" />
</g>
</g>
<g id="text_108">
<text style="font-size: 10px; text-anchor: end" x="423.41" y="958.49">100000</text>
</g>
</g>
<g id="ytick_54">
<g id="line2d_101">
<g>
<use href="#m5d545ce8f8" x="430.41" y="915.44" />
</g>
</g>
<g id="text_109">
<text style="font-size: 10px; text-anchor: end" x="423.41" y="920.04">200000</text>
</g>
</g>
<g id="ytick_55">
<g id="line2d_102">
<g>
<use href="#m5d545ce8f8" x="430.41" y="876.99" />
</g>
</g>
<g id="text_110">
<text style="font-size: 10px; text-anchor: end" x="423.41" y="881.59">300000</text>
</g>
</g>
<g id="ytick_56">
<g id="line2d_103">
<g>
<use href="#m5d545ce8f8" x="430.41" y="838.54" />
</g>
</g>
<g id="text_111">
<text style="font-size: 10px; text-anchor: end" x="423.41" y="843.13">400000</text>
</g>
</g>
<g id="ytick_57">
<g id="line2d_104">
<g>
<use href="#m5d545ce8f8" x="430.41" y="800.08" />
</g>
</g>
<g id="text_112">
<text style="font-size: 10px; text-anchor: end" x="423.41" y="804.68">500000</text>
</g>
</g>
<g id="ytick_58">
<g id="line2d_105">
<g>
<use href="#m5d545ce8f8" x="430.41" y="761.63" />
</g>
</g>
<g id="text_113">
<text style="font-size: 10px; text-anchor: end" x="423.41" y="766.23">600000</text>
</g>
</g>
</g>
<g id="patch_838">
<path d="M 430.41 992.35 
L 430.41 751.3 
" style="fill: none; stroke: #000000; stroke-width: 1; stroke-linejoin: miter; stroke-linecap: square"/>
</g>
<g id="patch_839">
<path d="M 676.59 992.35 
L 676.59 751.3 
" style="fill: none; stroke: #000000; stroke-width: 1; stroke-linejoin: miter; stroke-linecap: square"/>
</g>
<g id="patch_840">
<path d="M 430.41 992.35 
L 676.59 992.35 
" style="fill: none; stroke: #000000; stroke-width: 1; stroke-linejoin: miter; stroke-linecap: square"/>
</g>
<g id="patch_841">
<path d="M 430.41 751.3 
L 676.59 751.3 
" style="fill: none; stroke: #000000; stroke-width: 1; stroke-linejoin: miter; stroke-linecap: square"/>
</g>
<g id="text_114">
<text style="font-size: 12px; text-anchor: middle" x="553.5" y="746.1">m4_daily</text>
</g>
</g>
<g id="axes_9">
<g id="patch_842">
<path d="M 725.82 992.35 
L 972 992.35 
L 972 751.3 
L 725.82 751.3 
z
" style="fill: #ffffff"/>
</g>
<path class="bars" clip-path="url(#p353d14e7e4)" d="M737.01 992.35H739.25V944.57H737.01ZM739.25 992.35H741.49V891.79H739.25ZM741.49 992.35H743.73V860.31H741.49ZM743.73 992.35H745.97V848.36H743.73ZM745.97 992.35H748.2V803.41H745.97ZM748.2 992.35H750.44V795.59H748.2ZM750.44 992.35H752.68V790.81H750.44ZM752.68 992.35H754.92V762.78H752.68ZM754.92 992.35H757.16V786.04H754.92ZM757.16 992.35H759.39V801.67H757.16ZM759.39 992.35H761.63V792.55H759.39ZM761.63 992.35H763.87V787.56H761.63ZM763.87 992.35H766.11V821.22H763.87ZM766.11 992.35H768.34V828.16H766.11ZM768.34 992.35H770.58V838.16H768.34ZM770.58 992.35H772.82V855.96H770.58ZM772.82 992.35H775.06V867.91H772.82ZM775.06 992.35H777.3V870.73H775.06ZM777.3 992.35H779.53V875.08H777.3ZM779.53 992.35H781.77V879.85H779.53ZM781.77 992.35H784.01V892.45H781.77ZM784.01 992.35H786.25V902.65H784.01ZM786.25 992.35H788.49V905.48H786.25ZM788.49 992.35H790.72V907H788.49ZM790.72 992.35H792.96V909.17H790.72ZM792.96 992.35H795.2V916.34H792.96ZM795.2 992.35H797.44V921.55H795.2ZM797.44 992.35H799.68V927.63H797.44ZM799.68 992.35H801.91V933.06H799.68ZM801.91 992.35H804.15V940.66H801.91ZM804.15 992.35H806.39V941.75H804.15ZM806.39 992.35H808.63V942.4H806.39ZM808.63 992.35H810.87V942.83H808.63ZM810.87 992.35H813.1V939.58H810.87ZM813.1 992.35H815.34V940.66H813.1ZM815.34 992.35H817.58V945H815.34ZM817.58 992.35H819.82V946.09H817.58ZM819.82 992.35H822.06V950.09H819.82ZM822.06 992.35H824.29V954.02H822.06ZM824.29 992.35H826.53V953.63H824.29ZM826.53 992.35H828.77V953.87H826.53ZM828.77 992.35H831.01V955.42H828.77ZM831.01 992.35H833.25V955.52H831.01ZM833.25 992.35H835.48V959.76H833.25ZM835.48 992.35H837.72V964.31H835.48ZM837.72 992.35H839.96V965.18H837.72ZM839.96 992.35H842.2V964.02H839.96ZM842.2 992.35H844.44V964.95H842.2ZM844.44 992.35H846.67V966.58H844.44ZM846.67 992.35H848.91V970.03H846.67ZM848.91 992.35H851.15V971.07H848.91ZM851.15 992.35H853.39V971.78H851.15ZM853.39 992.35H855.63V972.14H853.39ZM855.63 992.35H857.86V971.97H855.63ZM857.86 992.35H860.1V973.64H857.86ZM860.1 992.35H862.34V974.19H860.1ZM862.34 992.35H864.58V974.84H862.34ZM864.58 992.35H866.82V976.06H864.58ZM866.82 992.35H869.05V975.84H866.82ZM869.05 992.35H871.29V969.38H869.05ZM871.29 992.35H873.53V979.73H871.29ZM873.53 992.35H875.77V979.12H873.53ZM875.77 992.35H878.01V977.83H875.77ZM878.01 992.35H880.24V976.6H878.01ZM880.24 992.35H882.48V978.46H880.24ZM882.48 992.35H884.72V979.76H882.48ZM884.72 992.35H886.96V981.06H884.72ZM886.96 992.35H889.2V979.24H886.96ZM889.2 992.35H891.43V980.99H889.2ZM891.43 992.35H893.67V982.15H891.43ZM893.67 992.35H895.91V982.55H893.67ZM895.91 992.35H898.15V982.92H895.91ZM898.15 992.35H900.39V983.97H898.15ZM900.39 992.35H902.62V985.25H900.39ZM902.62 992.35H904.86V986.56H902.62ZM904.86 992.35H907.1V987.2H904.86ZM907.1 992.35H909.34V988.08H907.1ZM909.34 992.35H911.57V988.53H909.34ZM911.57 992.35H913.81V988.74H911.57ZM913.81 992.35H916.05V988.93H913.81ZM916.05 992.35H918.29V988.97H916.05ZM918.29 992.35H920.53V988.97H918.29ZM920.53 992.35H922.76V989.26H920.53ZM922.76 992.35H925V989.53H922.76ZM925 992.35H927.24V989.74H925ZM927.24 992.35H929.48V989.85H927.24ZM929.48 992.35H931.72V989.96H929.48ZM931.72 992.35H933.95V990.06H931.72ZM933.95 992.35H936.19V990.01H933.95ZM936.19 992.35H938.43V989.9H936.19ZM938.43 992.35H940.67V989.79H938.43ZM940.67 992.35H942.91V989.65H940.67ZM942.91 992.35H945.14V989.43H942.91ZM945.14 992.35H947.38V989.42H945.14ZM947.38 992.35H949.62V989.53H947.38ZM949.62 992.35H951.86V989.84H949.62ZM951.86 992.35H954.1V990.15H951.86ZM954.1 992.35H956.33V990.37H954.1ZM956.33 992.35H958.57V990.59H956.33ZM958.57 992.35H960.81V990.81H958.57Z"/>
<path class="seams" clip-path="url(#p353d14e7e4)" d="M739.25 992.35V944.72M741.49 992.35V891.94M743.73 992.35V860.46M745.97 992.35V848.51M748.2 992.35V803.56M750.44 992.35V795.74M752.68 992.35V790.96M754.92 992.35V786.19M757.16 992.35V801.82M759.39 992.35V801.82M761.63 992.35V792.7M763.87 992.35V821.37M766.11 992.35V828.31M768.34 992.35V838.31M770.58 992.35V856.11M772.82 992.35V868.06M775.06 992.35V870.88M777.3 992.35V875.23M779.53 992.35V880M781.77 992.35V892.6M784.01 992.35V902.8M786.25 992.35V905.63M788.49 992.35V907.15M790.72 992.35V909.32M792.96 992.35V916.49M795.2 992.35V921.7M797.44 992.35V927.78M799.68 992.35V933.21M801.91 992.35V940.81M804.15 992.35V941.9M806.39 992.35V942.55M808.63 992.35V942.98M810.87 992.35V942.98M813.1 992.35V940.81M815.34 992.35V945.15M817.58 992.35V946.24M819.82 992.35V950.24M822.06 992.35V954.17M824.29 992.35V954.17M826.53 992.35V954.02M828.77 992.35V955.57M831.01 992.35V955.67M833.25 992.35V959.91M835.48 992.35V964.46M837.72 992.35V965.33M839.96 992.35V965.33M842.2 992.35V965.1M844.44 992.35V966.73M846.67 992.35V970.18M848.91 992.35V971.22M851.15 992.35V971.93M853.39 992.35V972.29M855.63 992.35V972.29M857.86 992.35V973.79M860.1 992.35V974.34M862.34 992.35V974.99M864.58 992.35V976.21M866.82 992.35V976.21M869.05 992.35V975.99M871.29 992.35V979.88M873.53 992.35V979.88M875.77 992.35V979.27M878.01 992.35V977.98M880.24 992.35V978.61M882.48 992.35V979.91M884.72 992.35V981.21M886.96 992.35V981.21M889.2 992.35V981.14M891.43 992.35V982.3M893.67 992.35V982.7M895.91 992.35V983.07M898.15 992.35V984.12M900.39 992.35V985.4M902.62 992.35V986.71M904.86 992.35V987.35M907.1 992.35V988.23M909.34 992.35V988.68M911.57 992.35V988.89M913.81 992.35V989.08M916.05 992.35V989.12M918.29 992.35V989.12M920.53 992.35V989.41M922.76 992.35V989.68M925 992.35V989.89M927.24 992.35V990M929.48 992.35V990.11M931.72 992.35V990.21M933.95 992.35V990.21M936.19 992.35V990.16M938.43 992.35V990.05M940.67 992.35V989.94M942.91 992.35V989.8M945.14 992.35V989.58M947.38 992.35V989.68M949.62 992.35V989.99M951.86 992.35V990.3M954.1 992.35V990.52M956.33 992.35V990.74M958.57 992.35V990.96"/>
<g id="matplotlib.axis_17">
<g id="xtick_48">
<g id="line2d_106">
<g>
<use href="#m1504cfccaf" x="736.2" y="992.35" />
</g>
</g>
<g id="text_115">
<text style="font-size: 10px; text-anchor: middle" x="736.2" y="1007.75">0</text>
</g>
</g>
<g id="xtick_49">
<g id="line2d_107">
<g>
<use href="#m1504cfccaf" x="770.03" y="992.35" />
</g>
</g>
<g id="text_116">
<text style="font-size: 10px; text-anchor: middle" x="770.03" y="1007.75">2500</text>
</g>
</g>
<g id="xtick_50">
<g id="line2d_108">
<g>
<use href="#m1504cfccaf" x="803.85" y="992.35" />
</g>
</g>
<g id="text_117">
<text style="font-size: 10px; text-anchor: middle" x="803.85" y="1007.75">5000</text>
</g>
</g>
<g id="xtick_51">
<g id="line2d_109">
<g>
<use href="#m1504cfccaf" x="837.68" y="992.35" />
</g>
</g>
<g id="text_118">
<text style="font-size: 10px; text-anchor: middle" x="837.68" y="1007.75">7500</text>
</g>
</g>
<g id="xtick_52">
<g id="line2d_110">
<g>
<use href="#m1504cfccaf" x="871.51" y="992.35" />
</g>
</g>
<g id="text_119">
<text style="font-size: 10px; text-anchor: middle" x="871.51" y="1007.75">10000</text>
</g>
</g>
<g id="xtick_53">
<g id="line2d_111">
<g>
<use href="#m1504cfccaf" x="905.33" y="992.35" />
</g>
</g>
<g id="text_120">
<text style="font-size: 10px; text-anchor: middle" x="905.33" y="1007.75">12500</text>
</g>
</g>
<g id="xtick_54">
<g id="line2d_112">
<g>
<use href="#m1504cfccaf" x="939.16" y="992.35" />
</g>
</g>
<g id="text_121">
<text style="font-size: 10px; text-anchor: middle" x="939.16" y="1007.75">15000</text>
</g>
</g>
</g>
<g id="matplotlib.axis_18">
<g id="ytick_59">
<g id="line2d_113">
<g>
<use href="#m5d545ce8f8" x="725.82" y="992.35" />
</g>
</g>
<g id="text_122">
<text style="font-size: 10px; text-anchor: end" x="718.82" y="996.95">0</text>
</g>
</g>
<g id="ytick_60">
<g id="line2d_114">
<g>
<use href="#m5d545ce8f8" x="725.82" y="963.62" />
</g>
</g>
<g id="text_123">
<text style="font-size: 10px; text-anchor: end" x="718.82" y="968.22">2000</text>
</g>
</g>
<g id="ytick_61">
<g id="line2d_115">
<g>
<use href="#m5d545ce8f8" x="725.82" y="934.88" />
</g>
</g>
<g id="text_124">
<text style="font-size: 10px; text-anchor: end" x="718.82" y="939.48">4000</text>
</g>
</g>
<g id="ytick_62">
<g id="line2d_116">
<g>
<use href="#m5d545ce8f8" x="725.82" y="906.15" />
</g>
</g>
<g id="text_125">
<text style="font-size: 10px; text-anchor: end" x="718.82" y="910.75">6000</text>
</g>
</g>
<g id="ytick_63">
<g id="line2d_117">
<g>
<use href="#m5d545ce8f8" x="725.82" y="877.42" />
</g>
</g>
<g id="text_126">
<text style="font-size: 10px; text-anchor: end" x="718.82" y="882.02">8000</text>
</g>
</g>
<g id="ytick_64">
<g id="line2d_118">
<g>
<use href="#m5d545ce8f8" x="725.82" y="848.69" />
</g>
</g>
<g id="text_127">
<text style="font-size: 10px; text-anchor: end" x="718.82" y="853.29">10000</text>
</g>
</g>
<g id="ytick_65">
<g id="line2d_119">
<g>
<use href="#m5d545ce8f8" x="725.82" y="819.96" />
</g>
</g>
<g id="text_128">
<text style="font-size: 10px; text-anchor: end" x="718.82" y="824.56">12000</text>
</g>
</g>
<g id="ytick_66">
<g id="line2d_120">
<g>
<use href="#m5d545ce8f8" x="725.82" y="791.23" />
</g>
</g>
<g id="text_129">
<text style="font-size: 10px; text-anchor: end" x="718.82" y="795.83">14000</text>
</g>
</g>
<g id="ytick_67">
<g id="line2d_121">
<g>
<use href="#m5d545ce8f8" x="725.82" y="762.5" />
</g>
</g>
<g id="text_130">
<text style="font-size: 10px; text-anchor: end" x="718.82" y="767.09">16000</text>
</g>
</g>
</g>
<g id="patch_943">
<path d="M 725.82 992.35 
L 725.82 751.3 
" style="fill: none; stroke: #000000; stroke-width: 1; stroke-linejoin: miter; stroke-linecap: square"/>
</g>
<g id="patch_944">
<path d="M 972 992.35 
L 972 751.3 
" style="fill: none; stroke: #000000; stroke-width: 1; stroke-linejoin: miter; stroke-linecap: square"/>
</g>
<g id="patch_945">
<path d="M 725.82 992.35 
L 972 992.35 
" style="fill: none; stroke: #000000; stroke-width: 1; stroke-linejoin: miter; stroke-linecap: square"/>
</g>
<g id="patch_946">
<path d="M 725.82 751.3 
L 972 751.3 
" style="fill: none; stroke: #000000; stroke-width: 1; stroke-linejoin: miter; stroke-linecap: square"/>
</g>
<g id="text_131">
<text style="font-size: 12px; text-anchor: middle" x="848.91" y="746.1">m4_weekly</text>
</g>
</g>
<g id="axes_10">
<g id="patch_947">
<path d="M 135 1281.6 
L 381.18 1281.6 
L 381.18 1040.56 
L 135 1040.56 
z
" style="fill: #ffffff"/>
</g>
<path class="bars" clip-path="url(#pc0032b4e52)" d="M146.19 1281.6H148.43V1276.69H146.19ZM148.43 1281.6H150.67V1261.96H148.43ZM150.67 1281.6H152.9V1250.66H150.67ZM152.9 1281.6H155.14V1239.86H152.9ZM155.14 1281.6H157.38V1226.11H155.14ZM157.38 1281.6H159.62V1204.01H157.38ZM159.62 1281.6H161.86V1157.36H159.62ZM161.86 1281.6H164.09V1052.03H161.86ZM164.09 1281.6H166.33V1082.23H164.09ZM166.33 1281.6H168.57V1101.39H166.33ZM168.57 1281.6H170.81V1109.73H168.57ZM170.81 1281.6H173.05V1126.43H170.81ZM173.05 1281.6H175.28V1139.2H173.05ZM175.28 1281.6H177.52V1145.58H175.28ZM177.52 1281.6H179.76V1152.45H177.52ZM179.76 1281.6H182V1163.75H179.76ZM182 1281.6H184.24V1169.64H182ZM184.24 1281.6H186.47V1176.52H184.24ZM186.47 1281.6H188.71V1182.41H186.47ZM188.71 1281.6H190.95V1189.77H188.71ZM190.95 1281.6H193.19V1192.72H190.95ZM193.19 1281.6H195.43V1194.19H193.19ZM195.43 1281.6H197.66V1199.59H195.43ZM197.66 1281.6H199.9V1198.61H197.66ZM199.9 1281.6H202.14V1205.98H199.9ZM202.14 1281.6H204.38V1206.96H202.14ZM204.38 1281.6H206.61V1208.92H204.38ZM206.61 1281.6H208.85V1214.33H206.61ZM208.85 1281.6H211.09V1215.31H208.85ZM211.09 1281.6H213.33V1213.34H211.09ZM213.33 1281.6H215.57V1219.73H213.33ZM215.57 1281.6H217.8V1222.18H215.57ZM217.8 1281.6H220.04V1220.71H217.8ZM220.04 1281.6H222.28V1223.66H220.04ZM222.28 1281.6H224.52V1223.17H222.28ZM224.52 1281.6H226.76V1229.55H224.52ZM226.76 1281.6H228.99V1220.71H226.76ZM228.99 1281.6H231.23V1226.11H228.99ZM231.23 1281.6H233.47V1232.5H231.23ZM233.47 1281.6H235.71V1231.51H233.47ZM235.71 1281.6H237.95V1228.08H235.71ZM237.95 1281.6H240.18V1235.44H237.95ZM240.18 1281.6H242.42V1234.46H240.18ZM242.42 1281.6H244.66V1229.06H242.42ZM244.66 1281.6H246.9V1236.42H244.66ZM246.9 1281.6H249.14V1233.97H246.9ZM249.14 1281.6H251.37V1238.88H249.14ZM251.37 1281.6H253.61V1238.88H251.37ZM253.61 1281.6H255.85V1236.42H253.61ZM255.85 1281.6H258.09V1241.83H255.85ZM258.09 1281.6H260.33V1241.83H258.09ZM260.33 1281.6H262.56V1237.9H260.33ZM262.56 1281.6H264.8V1243.79H262.56ZM264.8 1281.6H267.04V1244.28H264.8ZM267.04 1281.6H269.28V1241.33H267.04ZM269.28 1281.6H271.52V1245.75H269.28ZM271.52 1281.6H273.75V1243.79H271.52ZM273.75 1281.6H275.99V1247.72H273.75ZM275.99 1281.6H278.23V1248.21H275.99ZM278.23 1281.6H280.47V1246.74H278.23ZM280.47 1281.6H282.71V1250.17H280.47ZM282.71 1281.6H284.94V1252.63H282.71ZM284.94 1281.6H287.18V1248.7H284.94ZM287.18 1281.6H289.42V1253.12H287.18ZM289.42 1281.6H291.66V1253.12H289.42ZM291.66 1281.6H293.9V1249.68H291.66ZM293.9 1281.6H296.13V1254.1H293.9ZM296.13 1281.6H298.37V1252.63H296.13ZM298.37 1281.6H300.61V1254.59H298.37ZM300.61 1281.6H302.85V1256.07H300.61ZM302.85 1281.6H305.09V1253.12H302.85ZM305.09 1281.6H307.32V1255.57H305.09ZM307.32 1281.6H309.56V1254.59H307.32ZM309.56 1281.6H311.8V1245.26H309.56ZM311.8 1281.6H314.04V1261.47H311.8ZM314.04 1281.6H316.28V1265.05H314.04ZM316.28 1281.6H318.51V1265.05H316.28ZM318.51 1281.6H320.75V1269.52H318.51ZM320.75 1281.6H322.99V1269.52H320.75ZM322.99 1281.6H325.23V1271.83H322.99ZM325.23 1281.6H327.47V1271.83H325.23ZM327.47 1281.6H329.7V1272.86H327.47ZM329.7 1281.6H331.94V1274.58H329.7ZM331.94 1281.6H334.18V1275.36H331.94ZM334.18 1281.6H336.42V1275.36H334.18ZM336.42 1281.6H338.66V1276.54H336.42ZM338.66 1281.6H340.89V1276.54H338.66ZM340.89 1281.6H343.13V1277.33H340.89ZM343.13 1281.6H345.37V1277.33H343.13ZM345.37 1281.6H347.61V1277.52H345.37ZM347.61 1281.6H349.84V1278.06H347.61ZM349.84 1281.6H352.08V1278.06H349.84ZM352.08 1281.6H354.32V1278.31H352.08ZM354.32 1281.6H356.56V1278.85H354.32ZM356.56 1281.6H358.8V1278.85H356.56ZM358.8 1281.6H361.03V1278.7H358.8ZM361.03 1281.6H363.27V1279.1H361.03ZM363.27 1281.6H365.51V1279.1H363.27ZM365.51 1281.6H367.75V1279.39H365.51ZM367.75 1281.6H369.99V1279.64H367.75Z"/>
<path class="seams" clip-path="url(#pc0032b4e52)" d="M148.43 1281.6V1276.84M150.67 1281.6V1262.11M152.9 1281.6V1250.81M155.14 1281.6V1240.01M157.38 1281.6V1226.26M159.62 1281.6V1204.16M161.86 1281.6V1157.51M164.09 1281.6V1082.38M166.33 1281.6V1101.54M168.57 1281.6V1109.88M170.81 1281.6V1126.58M173.05 1281.6V1139.35M175.28 1281.6V1145.73M177.52 1281.6V1152.6M179.76 1281.6V1163.9M182 1281.6V1169.79M184.24 1281.6V1176.67M186.47 1281.6V1182.56M188.71 1281.6V1189.92M190.95 1281.6V1192.87M193.19 1281.6V1194.34M195.43 1281.6V1199.74M197.66 1281.6V1199.74M199.9 1281.6V1206.13M202.14 1281.6V1207.11M204.38 1281.6V1209.07M206.61 1281.6V1214.48M208.85 1281.6V1215.46M211.09 1281.6V1215.46M213.33 1281.6V1219.88M215.57 1281.6V1222.33M217.8 1281.6V1222.33M220.04 1281.6V1223.81M222.28 1281.6V1223.81M224.52 1281.6V1229.7M226.76 1281.6V1229.7M228.99 1281.6V1226.26M231.23 1281.6V1232.65M233.47 1281.6V1232.65M235.71 1281.6V1231.66M237.95 1281.6V1235.59M240.18 1281.6V1235.59M242.42 1281.6V1234.61M244.66 1281.6V1236.57M246.9 1281.6V1236.57M249.14 1281.6V1239.03M251.37 1281.6V1239.03M253.61 1281.6V1239.03M255.85 1281.6V1241.98M258.09 1281.6V1241.98M260.33 1281.6V1241.98M262.56 1281.6V1243.94M264.8 1281.6V1244.43M267.04 1281.6V1244.43M269.28 1281.6V1245.9M271.52 1281.6V1245.9M273.75 1281.6V1247.87M275.99 1281.6V1248.36M278.23 1281.6V1248.36M280.47 1281.6V1250.32M282.71 1281.6V1252.78M284.94 1281.6V1252.78M287.18 1281.6V1253.27M289.42 1281.6V1253.27M291.66 1281.6V1253.27M293.9 1281.6V1254.25M296.13 1281.6V1254.25M298.37 1281.6V1254.74M300.61 1281.6V1256.22M302.85 1281.6V1256.22M305.09 1281.6V1255.72M307.32 1281.6V1255.72M309.56 1281.6V1254.74M311.8 1281.6V1261.62M314.04 1281.6V1265.2M316.28 1281.6V1265.2M318.51 1281.6V1269.67M320.75 1281.6V1269.67M322.99 1281.6V1271.98M325.23 1281.6V1271.98M327.47 1281.6V1273.01M329.7 1281.6V1274.73M331.94 1281.6V1275.51M334.18 1281.6V1275.51M336.42 1281.6V1276.69M338.66 1281.6V1276.69M340.89 1281.6V1277.48M343.13 1281.6V1277.48M345.37 1281.6V1277.67M347.61 1281.6V1278.21M349.84 1281.6V1278.21M352.08 1281.6V1278.46M354.32 1281.6V1279M356.56 1281.6V1279M358.8 1281.6V1279M361.03 1281.6V1279.25M363.27 1281.6V1279.25M365.51 1281.6V1279.54M367.75 1281.6V1279.79"/>
<g id="matplotlib.axis_19">
<g id="xtick_55">
<g id="line2d_122">
<g>
<use href="#m1504cfccaf" x="146.19" y="1281.6" />
</g>
</g>
<g id="text_132">
<text style="font-size: 10px; text-anchor: middle" x="146.19" y="1297">0</text>
</g>
</g>
<g id="xtick_56">
<g id="line2d_123">
<g>
<use href="#m1504cfccaf" x="178.91" y="1281.6" />
</g>
</g>
<g id="text_133">
<text style="font-size: 10px; text-anchor: middle" x="178.91" y="1297">2000</text>
</g>
</g>
<g id="xtick_57">
<g id="line2d_124">
<g>
<use href="#m1504cfccaf" x="211.64" y="1281.6" />
</g>
</g>
<g id="text_134">
<text style="font-size: 10px; text-anchor: middle" x="211.64" y="1297">4000</text>
</g>
</g>
<g id="xtick_58">
<g id="line2d_125">
<g>
<use href="#m1504cfccaf" x="244.36" y="1281.6" />
</g>
</g>
<g id="text_135">
<text style="font-size: 10px; text-anchor: middle" x="244.36" y="1297">6000</text>
</g>
</g>
<g id="xtick_59">
<g id="line2d_126">
<g>
<use href="#m1504cfccaf" x="277.08" y="1281.6" />
</g>
</g>
<g id="text_136">
<text style="font-size: 10px; text-anchor: middle" x="277.08" y="1297">8000</text>
</g>
</g>
<g id="xtick_60">
<g id="line2d_127">
<g>
<use href="#m1504cfccaf" x="309.81" y="1281.6" />
</g>
</g>
<g id="text_137">
<text style="font-size: 10px; text-anchor: middle" x="309.81" y="1297">10000</text>
</g>
</g>
<g id="xtick_61">
<g id="line2d_128">
<g>
<use href="#m1504cfccaf" x="342.53" y="1281.6" />
</g>
</g>
<g id="text_138">
<text style="font-size: 10px; text-anchor: middle" x="342.53" y="1297">12000</text>
</g>
</g>
<g id="xtick_62">
<g id="line2d_129">
<g>
<use href="#m1504cfccaf" x="375.26" y="1281.6" />
</g>
</g>
<g id="text_139">
<text style="font-size: 10px; text-anchor: middle" x="375.26" y="1297">14000</text>
</g>
</g>
</g>
<g id="matplotlib.axis_20">
<g id="ytick_68">
<g id="line2d_130">
<g>
<use href="#m5d545ce8f8" x="135" y="1281.6" />
</g>
</g>
<g id="text_140">
<text style="font-size: 10px; text-anchor: end" x="128" y="1286.2">0</text>
</g>
</g>
<g id="ytick_69">
<g id="line2d_131">
<g>
<use href="#m5d545ce8f8" x="135" y="1232.5" />
</g>
</g>
<g id="text_141">
<text style="font-size: 10px; text-anchor: end" x="128" y="1237.09">100000</text>
</g>
</g>
<g id="ytick_70">
<g id="line2d_132">
<g>
<use href="#m5d545ce8f8" x="135" y="1183.39" />
</g>
</g>
<g id="text_142">
<text style="font-size: 10px; text-anchor: end" x="128" y="1187.99">200000</text>
</g>
</g>
<g id="ytick_71">
<g id="line2d_133">
<g>
<use href="#m5d545ce8f8" x="135" y="1134.29" />
</g>
</g>
<g id="text_143">
<text style="font-size: 10px; text-anchor: end" x="128" y="1138.88">300000</text>
</g>
</g>
<g id="ytick_72">
<g id="line2d_134">
<g>
<use href="#m5d545ce8f8" x="135" y="1085.18" />
</g>
</g>
<g id="text_144">
<text style="font-size: 10px; text-anchor: end" x="128" y="1089.78">400000</text>
</g>
</g>
</g>
<g id="patch_1048">
<path d="M 135 1281.6 
L 135 1040.56 
" style="fill: none; stroke: #000000; stroke-width: 1; stroke-linejoin: miter; stroke-linecap: square"/>
</g>
<g id="patch_1049">
<path d="M 381.18 1281.6 
L 381.18 1040.56 
" style="fill: none; stroke: #000000; stroke-width: 1; stroke-linejoin: miter; stroke-linecap: square"/>
</g>
<g id="patch_1050">
<path d="M 135 1281.6 
L 381.18 1281.6 
" style="fill: none; stroke: #000000; stroke-width: 1; stroke-linejoin: miter; stroke-linecap: square"/>
</g>
<g id="patch_1051">
<path d="M 135 1040.56 
L 381.18 1040.56 
" style="fill: none; stroke: #000000; stroke-width: 1; stroke-linejoin: miter; stroke-linecap: square"/>
</g>
<g id="text_145">
<text style="font-size: 12px; text-anchor: middle" x="258.09" y="1035.36">m4_monthly</text>
</g>
</g>
<g id="axes_11">
<g id="patch_1052">
<path d="M 430.41 1281.6 
L 676.59 1281.6 
L 676.59 1040.56 
L 430.41 1040.56 
z
" style="fill: #ffffff"/>
</g>
<path class="bars" clip-path="url(#p63e7d66f0c)" d="M441.6 1281.6H443.84V1258.03H441.6ZM443.84 1281.6H446.08V1229.61H443.84ZM446.08 1281.6H448.32V1216.9H446.08ZM448.32 1281.6H450.55V1196.34H448.32ZM450.55 1281.6H452.79V1173.46H450.55ZM452.79 1281.6H455.03V1146.66H452.79ZM455.03 1281.6H457.27V1069.25H455.03ZM457.27 1281.6H459.51V1052.03H457.27ZM459.51 1281.6H461.74V1092.36H459.51ZM461.74 1281.6H463.98V1112.23H461.74ZM463.98 1281.6H466.22V1127.25H463.98ZM466.22 1281.6H468.46V1136.72H466.22ZM468.46 1281.6H470.7V1149.43H468.46ZM470.7 1281.6H472.93V1160.06H470.7ZM472.93 1281.6H475.17V1166.3H472.93ZM475.17 1281.6H477.41V1171.84H475.17ZM477.41 1281.6H479.65V1179.7H477.41ZM479.65 1281.6H481.89V1185.94H479.65ZM481.89 1281.6H484.12V1191.25H481.89ZM484.12 1281.6H486.36V1195.18H484.12ZM486.36 1281.6H488.6V1198.42H486.36ZM488.6 1281.6H490.84V1200.03H488.6ZM490.84 1281.6H493.07V1202.34H490.84ZM493.07 1281.6H495.31V1205.81H493.07ZM495.31 1281.6H497.55V1210.43H495.31ZM497.55 1281.6H499.79V1211.12H497.55ZM499.79 1281.6H502.03V1215.28H499.79ZM502.03 1281.6H504.26V1215.75H502.03ZM504.26 1281.6H506.5V1219.67H504.26ZM506.5 1281.6H508.74V1222.45H506.5ZM508.74 1281.6H510.98V1224.53H508.74ZM510.98 1281.6H513.22V1225.91H510.98ZM513.22 1281.6H515.45V1226.37H513.22ZM515.45 1281.6H517.69V1228.22H515.45ZM517.69 1281.6H519.93V1228.69H517.69ZM519.93 1281.6H522.17V1230.77H519.93ZM522.17 1281.6H524.41V1231.23H522.17ZM524.41 1281.6H526.64V1234H524.41ZM526.64 1281.6H528.88V1232.38H526.64ZM528.88 1281.6H531.12V1234.92H528.88ZM531.12 1281.6H533.36V1235.85H531.12ZM533.36 1281.6H535.6V1233.54H533.36ZM535.6 1281.6H537.83V1238.39H535.6ZM537.83 1281.6H540.07V1235.62H537.83ZM540.07 1281.6H542.31V1239.08H540.07ZM542.31 1281.6H544.55V1237H542.31ZM544.55 1281.6H546.79V1239.31H544.55ZM546.79 1281.6H549.02V1239.78H546.79ZM549.02 1281.6H551.26V1240.93H549.02ZM551.26 1281.6H553.5V1241.63H551.26ZM553.5 1281.6H555.74V1242.78H553.5ZM555.74 1281.6H557.98V1244.63H555.74ZM557.98 1281.6H560.21V1242.09H557.98ZM560.21 1281.6H562.45V1245.09H560.21ZM562.45 1281.6H564.69V1245.32H562.45ZM564.69 1281.6H566.93V1246.02H564.69ZM566.93 1281.6H569.17V1246.94H566.93ZM569.17 1281.6H571.4V1247.17H569.17ZM571.4 1281.6H573.64V1247.86H571.4ZM573.64 1281.6H575.88V1248.33H573.64ZM575.88 1281.6H578.12V1248.79H575.88ZM578.12 1281.6H580.36V1250.17H578.12ZM580.36 1281.6H582.59V1248.33H580.36ZM582.59 1281.6H584.83V1252.02H582.59ZM584.83 1281.6H587.07V1251.56H584.83ZM587.07 1281.6H589.31V1251.56H587.07ZM589.31 1281.6H591.55V1249.71H589.31ZM591.55 1281.6H593.78V1246.71H591.55ZM593.78 1281.6H596.02V1244.4H593.78ZM596.02 1281.6H598.26V1250.87H596.02ZM598.26 1281.6H600.5V1258.49H598.26ZM600.5 1281.6H602.74V1260.34H600.5ZM602.74 1281.6H604.97V1263.58H602.74ZM604.97 1281.6H607.21V1264.5H604.97ZM607.21 1281.6H609.45V1268.2H607.21ZM609.45 1281.6H611.69V1268.89H609.45ZM611.69 1281.6H613.93V1270.05H611.69ZM613.93 1281.6H616.16V1271.43H613.93ZM616.16 1281.6H618.4V1271.9H616.16ZM618.4 1281.6H620.64V1272.82H618.4ZM620.64 1281.6H622.88V1273.28H620.64ZM622.88 1281.6H625.11V1274.21H622.88ZM625.11 1281.6H627.35V1274.67H625.11ZM627.35 1281.6H629.59V1275.25H627.35ZM629.59 1281.6H631.83V1275.59H629.59ZM631.83 1281.6H634.07V1276.29H631.83ZM634.07 1281.6H636.3V1276.63H634.07ZM636.3 1281.6H638.54V1276.98H636.3ZM638.54 1281.6H640.78V1277.44H638.54ZM640.78 1281.6H643.02V1277.67H640.78ZM643.02 1281.6H645.26V1277.79H643.02ZM645.26 1281.6H647.49V1278.02H645.26ZM647.49 1281.6H649.73V1278.25H647.49ZM649.73 1281.6H651.97V1278.6H649.73ZM651.97 1281.6H654.21V1278.71H651.97ZM654.21 1281.6H656.45V1278.83H654.21ZM656.45 1281.6H658.68V1279.06H656.45ZM658.68 1281.6H660.92V1279.17H658.68ZM660.92 1281.6H663.16V1279.29H660.92ZM663.16 1281.6H665.4V1279.4H663.16Z"/>
<path class="seams" clip-path="url(#p63e7d66f0c)" d="M443.84 1281.6V1258.18M446.08 1281.6V1229.76M448.32 1281.6V1217.05M450.55 1281.6V1196.49M452.79 1281.6V1173.61M455.03 1281.6V1146.81M457.27 1281.6V1069.4M459.51 1281.6V1092.51M461.74 1281.6V1112.38M463.98 1281.6V1127.4M466.22 1281.6V1136.87M468.46 1281.6V1149.58M470.7 1281.6V1160.21M472.93 1281.6V1166.45M475.17 1281.6V1171.99M477.41 1281.6V1179.85M479.65 1281.6V1186.09M481.89 1281.6V1191.4M484.12 1281.6V1195.33M486.36 1281.6V1198.57M488.6 1281.6V1200.18M490.84 1281.6V1202.49M493.07 1281.6V1205.96M495.31 1281.6V1210.58M497.55 1281.6V1211.27M499.79 1281.6V1215.43M502.03 1281.6V1215.9M504.26 1281.6V1219.82M506.5 1281.6V1222.6M508.74 1281.6V1224.68M510.98 1281.6V1226.06M513.22 1281.6V1226.52M515.45 1281.6V1228.37M517.69 1281.6V1228.84M519.93 1281.6V1230.92M522.17 1281.6V1231.38M524.41 1281.6V1234.15M526.64 1281.6V1234.15M528.88 1281.6V1235.07M531.12 1281.6V1236M533.36 1281.6V1236M535.6 1281.6V1238.54M537.83 1281.6V1238.54M540.07 1281.6V1239.23M542.31 1281.6V1239.23M544.55 1281.6V1239.46M546.79 1281.6V1239.93M549.02 1281.6V1241.08M551.26 1281.6V1241.78M553.5 1281.6V1242.93M555.74 1281.6V1244.78M557.98 1281.6V1244.78M560.21 1281.6V1245.24M562.45 1281.6V1245.47M564.69 1281.6V1246.17M566.93 1281.6V1247.09M569.17 1281.6V1247.32M571.4 1281.6V1248.01M573.64 1281.6V1248.48M575.88 1281.6V1248.94M578.12 1281.6V1250.32M580.36 1281.6V1250.32M582.59 1281.6V1252.17M584.83 1281.6V1252.17M587.07 1281.6V1251.71M589.31 1281.6V1251.71M591.55 1281.6V1249.86M593.78 1281.6V1246.86M596.02 1281.6V1251.02M598.26 1281.6V1258.64M600.5 1281.6V1260.49M602.74 1281.6V1263.73M604.97 1281.6V1264.65M607.21 1281.6V1268.35M609.45 1281.6V1269.04M611.69 1281.6V1270.2M613.93 1281.6V1271.58M616.16 1281.6V1272.05M618.4 1281.6V1272.97M620.64 1281.6V1273.43M622.88 1281.6V1274.36M625.11 1281.6V1274.82M627.35 1281.6V1275.4M629.59 1281.6V1275.74M631.83 1281.6V1276.44M634.07 1281.6V1276.78M636.3 1281.6V1277.13M638.54 1281.6V1277.59M640.78 1281.6V1277.82M643.02 1281.6V1277.94M645.26 1281.6V1278.17M647.49 1281.6V1278.4M649.73 1281.6V1278.75M651.97 1281.6V1278.86M654.21 1281.6V1278.98M656.45 1281.6V1279.21M658.68 1281.6V1279.32M660.92 1281.6V1279.44M663.16 1281.6V1279.55"/>
<g id="matplotlib.axis_21">
<g id="xtick_63">
<g id="line2d_135">
<g>
<use href="#m1504cfccaf" x="441.6" y="1281.6" />
</g>
</g>
<g id="text_146">
<text style="font-size: 10px; text-anchor: middle" x="441.6" y="1297">0</text>
</g>
</g>
<g id="xtick_64">
<g id="line2d_136">
<g>
<use href="#m1504cfccaf" x="480.03" y="1281.6" />
</g>
</g>
<g id="text_147">
<text style="font-size: 10px; text-anchor: middle" x="480.03" y="1297">2500</text>
</g>
</g>
<g id="xtick_65">
<g id="line2d_137">
<g>
<use href="#m1504cfccaf" x="518.45" y="1281.6" />
</g>
</g>
<g id="text_148">
<text style="font-size: 10px; text-anchor: middle" x="518.45" y="1297">5000</text>
</g>
</g>
<g id="xtick_66">
<g id="line2d_138">
<g>
<use href="#m1504cfccaf" x="556.88" y="1281.6" />
</g>
</g>
<g id="text_149">
<text style="font-size: 10px; text-anchor: middle" x="556.88" y="1297">7500</text>
</g>
</g>
<g id="xtick_67">
<g id="line2d_139">
<g>
<use href="#m1504cfccaf" x="595.31" y="1281.6" />
</g>
</g>
<g id="text_150">
<text style="font-size: 10px; text-anchor: middle" x="595.31" y="1297">10000</text>
</g>
</g>
<g id="xtick_68">
<g id="line2d_140">
<g>
<use href="#m1504cfccaf" x="633.73" y="1281.6" />
</g>
</g>
<g id="text_151">
<text style="font-size: 10px; text-anchor: middle" x="633.73" y="1297">12500</text>
</g>
</g>
<g id="xtick_69">
<g id="line2d_141">
<g>
<use href="#m1504cfccaf" x="672.16" y="1281.6" />
</g>
</g>
<g id="text_152">
<text style="font-size: 10px; text-anchor: middle" x="672.16" y="1297">15000</text>
</g>
</g>
</g>
<g id="matplotlib.axis_22">
<g id="ytick_73">
<g id="line2d_142">
<g>
<use href="#m5d545ce8f8" x="430.41" y="1281.6" />
</g>
</g>
<g id="text_153">
<text style="font-size: 10px; text-anchor: end" x="423.41" y="1286.2">0</text>
</g>
</g>
<g id="ytick_74">
<g id="line2d_143">
<g>
<use href="#m5d545ce8f8" x="430.41" y="1235.39" />
</g>
</g>
<g id="text_154">
<text style="font-size: 10px; text-anchor: end" x="423.41" y="1239.99">20000</text>
</g>
</g>
<g id="ytick_75">
<g id="line2d_144">
<g>
<use href="#m5d545ce8f8" x="430.41" y="1189.17" />
</g>
</g>
<g id="text_155">
<text style="font-size: 10px; text-anchor: end" x="423.41" y="1193.77">40000</text>
</g>
</g>
<g id="ytick_76">
<g id="line2d_145">
<g>
<use href="#m5d545ce8f8" x="430.41" y="1142.96" />
</g>
</g>
<g id="text_156">
<text style="font-size: 10px; text-anchor: end" x="423.41" y="1147.56">60000</text>
</g>
</g>
<g id="ytick_77">
<g id="line2d_146">
<g>
<use href="#m5d545ce8f8" x="430.41" y="1096.75" />
</g>
</g>
<g id="text_157">
<text style="font-size: 10px; text-anchor: end" x="423.41" y="1101.35">80000</text>
</g>
</g>
<g id="ytick_78">
<g id="line2d_147">
<g>
<use href="#m5d545ce8f8" x="430.41" y="1050.53" />
</g>
</g>
<g id="text_158">
<text style="font-size: 10px; text-anchor: end" x="423.41" y="1055.13">100000</text>
</g>
</g>
</g>
<g id="patch_1153">
<path d="M 430.41 1281.6 
L 430.41 1040.56 
" style="fill: none; stroke: #000000; stroke-width: 1; stroke-linejoin: miter; stroke-linecap: square"/>
</g>
<g id="patch_1154">
<path d="M 676.59 1281.6 
L 676.59 1040.56 
" style="fill: none; stroke: #000000; stroke-width: 1; stroke-linejoin: miter; stroke-linecap: square"/>
</g>
<g id="patch_1155">
<path d="M 430.41 1281.6 
L 676.59 1281.6 
" style="fill: none; stroke: #000000; stroke-width: 1; stroke-linejoin: miter; stroke-linecap: square"/>
</g>
<g id="patch_1156">
<path d="M 430.41 1040.56 
L 676.59 1040.56 
" style="fill: none; stroke: #000000; stroke-width: 1; stroke-linejoin: miter; stroke-linecap: square"/>
</g>
<g id="text_159">
<text style="font-size: 12px; text-anchor: middle" x="553.5" y="1035.36">m4_quarterly</text>
</g>
</g>
<g id="axes_12">
<g id="patch_1157">
<path d="M 725.82 1281.6 
L 972 1281.6 
L 972 1040.56 
L 725.82 1040.56 
z
" style="fill: #ffffff"/>
</g>
<path class="bars" clip-path="url(#p0138525d51)" d="M737.01 1281.6H739.25V1238.71H737.01ZM739.25 1281.6H741.49V1176.16H739.25ZM741.49 1281.6H743.73V1135.05H741.49ZM743.73 1281.6H745.97V1127.01H743.73ZM745.97 1281.6H748.2V1127.9H745.97ZM748.2 1281.6H750.44V1122.54H748.2ZM750.44 1281.6H752.68V1106.45H750.44ZM752.68 1281.6H754.92V1061.77H752.68ZM754.92 1281.6H757.16V1052.03H754.92ZM757.16 1281.6H759.39V1062.67H757.16ZM759.39 1281.6H761.63V1074.29H759.39ZM761.63 1281.6H763.87V1087.69H761.63ZM763.87 1281.6H766.11V1101.09H763.87ZM766.11 1281.6H768.34V1109.14H766.11ZM768.34 1281.6H770.58V1118.07H768.34ZM770.58 1281.6H772.82V1127.9H770.58ZM772.82 1281.6H775.06V1137.73H772.82ZM775.06 1281.6H777.3V1143.99H775.06ZM777.3 1281.6H779.53V1148.45H777.3ZM779.53 1281.6H781.77V1160.07H779.53ZM781.77 1281.6H784.01V1169.01H781.77ZM784.01 1281.6H786.25V1173.47H784.01ZM786.25 1281.6H788.49V1180.62H786.25ZM788.49 1281.6H790.72V1185.09H788.49ZM790.72 1281.6H792.96V1188.67H790.72ZM792.96 1281.6H795.2V1196.71H792.96ZM795.2 1281.6H797.44V1197.6H795.2ZM797.44 1281.6H799.68V1200.28H797.44ZM799.68 1281.6H801.91V1204.75H799.68ZM801.91 1281.6H804.15V1209.22H801.91ZM804.15 1281.6H806.39V1210.11H804.15ZM806.39 1281.6H808.63V1212.79H806.39ZM808.63 1281.6H810.87V1216.37H808.63ZM810.87 1281.6H813.1V1217.26H810.87ZM813.1 1281.6H815.34V1220.84H813.1ZM815.34 1281.6H817.58V1223.52H815.34ZM817.58 1281.6H819.82V1224.41H817.58ZM819.82 1281.6H822.06V1226.2H819.82ZM822.06 1281.6H824.29V1227.98H822.06ZM824.29 1281.6H826.53V1227.98H824.29ZM826.53 1281.6H828.77V1231.11H826.53ZM828.77 1281.6H831.01V1233.35H828.77ZM831.01 1281.6H833.25V1233.35H831.01ZM833.25 1281.6H835.48V1233.35H833.25ZM835.48 1281.6H837.72V1236.03H835.48ZM837.72 1281.6H839.96V1236.92H837.72ZM839.96 1281.6H842.2V1236.92H839.96ZM842.2 1281.6H844.44V1239.6H842.2ZM844.44 1281.6H846.67V1240.49H844.44ZM846.67 1281.6H848.91V1239.6H846.67ZM848.91 1281.6H851.15V1241.83H848.91ZM851.15 1281.6H853.39V1241.83H851.15ZM853.39 1281.6H855.63V1241.83H853.39ZM855.63 1281.6H857.86V1244.07H855.63ZM857.86 1281.6H860.1V1244.07H857.86ZM860.1 1281.6H862.34V1244.96H860.1ZM862.34 1281.6H864.58V1246.75H862.34ZM864.58 1281.6H866.82V1247.64H864.58ZM866.82 1281.6H869.05V1245.86H866.82ZM869.05 1281.6H871.29V1246.75H869.05ZM871.29 1281.6H873.53V1248.54H871.29ZM873.53 1281.6H875.77V1249.43H873.53ZM875.77 1281.6H878.01V1249.88H875.77ZM878.01 1281.6H880.24V1251.66H878.01ZM880.24 1281.6H882.48V1252.11H880.24ZM882.48 1281.6H884.72V1252.11H882.48ZM884.72 1281.6H886.96V1252.56H884.72ZM886.96 1281.6H889.2V1253H886.96ZM889.2 1281.6H891.43V1253H889.2ZM891.43 1281.6H893.67V1255.69H891.43ZM893.67 1281.6H895.91V1255.69H893.67ZM895.91 1281.6H898.15V1256.13H895.91ZM898.15 1281.6H900.39V1257.92H898.15ZM900.39 1281.6H902.62V1257.03H900.39ZM902.62 1281.6H904.86V1257.47H902.62ZM904.86 1281.6H907.1V1248.54H904.86ZM907.1 1281.6H909.34V1262.83H907.1ZM909.34 1281.6H911.57V1263.73H909.34ZM911.57 1281.6H913.81V1266.41H911.57ZM913.81 1281.6H916.05V1268.2H913.81ZM916.05 1281.6H918.29V1268.64H916.05ZM918.29 1281.6H920.53V1269.98H918.29ZM920.53 1281.6H922.76V1271.32H920.53ZM922.76 1281.6H925V1272.66H922.76ZM925 1281.6H927.24V1273.38H925ZM927.24 1281.6H929.48V1274.09H927.24ZM929.48 1281.6H931.72V1274.63H929.48ZM931.72 1281.6H933.95V1275.26H931.72ZM933.95 1281.6H936.19V1275.61H933.95ZM936.19 1281.6H938.43V1276.15H936.19ZM938.43 1281.6H940.67V1276.51H938.43ZM940.67 1281.6H942.91V1276.86H940.67ZM942.91 1281.6H945.14V1277.31H942.91ZM945.14 1281.6H947.38V1277.67H945.14ZM947.38 1281.6H949.62V1277.85H947.38ZM949.62 1281.6H951.86V1278.03H949.62ZM951.86 1281.6H954.1V1278.2H951.86ZM954.1 1281.6H956.33V1278.38H954.1ZM956.33 1281.6H958.57V1278.74H956.33ZM958.57 1281.6H960.81V1279.19H958.57Z"/>
<path class="seams" clip-path="url(#p0138525d51)" d="M739.25 1281.6V1238.86M741.49 1281.6V1176.31M743.73 1281.6V1135.2M745.97 1281.6V1128.05M748.2 1281.6V1128.05M750.44 1281.6V1122.69M752.68 1281.6V1106.6M754.92 1281.6V1061.92M757.16 1281.6V1062.82M759.39 1281.6V1074.44M761.63 1281.6V1087.84M763.87 1281.6V1101.24M766.11 1281.6V1109.29M768.34 1281.6V1118.22M770.58 1281.6V1128.05M772.82 1281.6V1137.88M775.06 1281.6V1144.14M777.3 1281.6V1148.6M779.53 1281.6V1160.22M781.77 1281.6V1169.16M784.01 1281.6V1173.62M786.25 1281.6V1180.77M788.49 1281.6V1185.24M790.72 1281.6V1188.82M792.96 1281.6V1196.86M795.2 1281.6V1197.75M797.44 1281.6V1200.43M799.68 1281.6V1204.9M801.91 1281.6V1209.37M804.15 1281.6V1210.26M806.39 1281.6V1212.94M808.63 1281.6V1216.52M810.87 1281.6V1217.41M813.1 1281.6V1220.99M815.34 1281.6V1223.67M817.58 1281.6V1224.56M819.82 1281.6V1226.35M822.06 1281.6V1228.13M824.29 1281.6V1228.13M826.53 1281.6V1231.26M828.77 1281.6V1233.5M831.01 1281.6V1233.5M833.25 1281.6V1233.5M835.48 1281.6V1236.18M837.72 1281.6V1237.07M839.96 1281.6V1237.07M842.2 1281.6V1239.75M844.44 1281.6V1240.64M846.67 1281.6V1240.64M848.91 1281.6V1241.98M851.15 1281.6V1241.98M853.39 1281.6V1241.98M855.63 1281.6V1244.22M857.86 1281.6V1244.22M860.1 1281.6V1245.11M862.34 1281.6V1246.9M864.58 1281.6V1247.79M866.82 1281.6V1247.79M869.05 1281.6V1246.9M871.29 1281.6V1248.69M873.53 1281.6V1249.58M875.77 1281.6V1250.03M878.01 1281.6V1251.81M880.24 1281.6V1252.26M882.48 1281.6V1252.26M884.72 1281.6V1252.71M886.96 1281.6V1253.15M889.2 1281.6V1253.15M891.43 1281.6V1255.84M893.67 1281.6V1255.84M895.91 1281.6V1256.28M898.15 1281.6V1258.07M900.39 1281.6V1258.07M902.62 1281.6V1257.62M904.86 1281.6V1257.62M907.1 1281.6V1262.98M909.34 1281.6V1263.88M911.57 1281.6V1266.56M913.81 1281.6V1268.35M916.05 1281.6V1268.79M918.29 1281.6V1270.13M920.53 1281.6V1271.47M922.76 1281.6V1272.81M925 1281.6V1273.53M927.24 1281.6V1274.24M929.48 1281.6V1274.78M931.72 1281.6V1275.41M933.95 1281.6V1275.76M936.19 1281.6V1276.3M938.43 1281.6V1276.66M940.67 1281.6V1277.01M942.91 1281.6V1277.46M945.14 1281.6V1277.82M947.38 1281.6V1278M949.62 1281.6V1278.18M951.86 1281.6V1278.35M954.1 1281.6V1278.53M956.33 1281.6V1278.89M958.57 1281.6V1279.34"/>
<g id="matplotlib.axis_23">
<g id="xtick_70">
<g id="line2d_148">
<g>
<use href="#m1504cfccaf" x="737.01" y="1281.6" />
</g>
</g>
<g id="text_160">
<text style="font-size: 10px; text-anchor: middle" x="737.01" y="1297">0</text>
</g>
</g>
<g id="xtick_71">
<g id="line2d_149">
<g>
<use href="#m1504cfccaf" x="770.8" y="1281.6" />
</g>
</g>
<g id="text_161">
<text style="font-size: 10px; text-anchor: middle" x="770.8" y="1297">2000</text>
</g>
</g>
<g id="xtick_72">
<g id="line2d_150">
<g>
<use href="#m1504cfccaf" x="804.6" y="1281.6" />
</g>
</g>
<g id="text_162">
<text style="font-size: 10px; text-anchor: middle" x="804.6" y="1297">4000</text>
</g>
</g>
<g id="xtick_73">
<g id="line2d_151">
<g>
<use href="#m1504cfccaf" x="838.39" y="1281.6" />
</g>
</g>
<g id="text_163">
<text style="font-size: 10px; text-anchor: middle" x="838.39" y="1297">6000</text>
</g>
</g>
<g id="xtick_74">
<g id="line2d_152">
<g>
<use href="#m1504cfccaf" x="872.18" y="1281.6" />
</g>
</g>
<g id="text_164">
<text style="font-size: 10px; text-anchor: middle" x="872.18" y="1297">8000</text>
</g>
</g>
<g id="xtick_75">
<g id="line2d_153">
<g>
<use href="#m1504cfccaf" x="905.97" y="1281.6" />
</g>
</g>
<g id="text_165">
<text style="font-size: 10px; text-anchor: middle" x="905.97" y="1297">10000</text>
</g>
</g>
<g id="xtick_76">
<g id="line2d_154">
<g>
<use href="#m1504cfccaf" x="939.76" y="1281.6" />
</g>
</g>
<g id="text_166">
<text style="font-size: 10px; text-anchor: middle" x="939.76" y="1297">12000</text>
</g>
</g>
</g>
<g id="matplotlib.axis_24">
<g id="ytick_79">
<g id="line2d_155">
<g>
<use href="#m5d545ce8f8" x="725.82" y="1281.6" />
</g>
</g>
<g id="text_167">
<text style="font-size: 10px; text-anchor: end" x="718.82" y="1286.2">0</text>
</g>
</g>
<g id="ytick_80">
<g id="line2d_156">
<g>
<use href="#m5d545ce8f8" x="725.82" y="1236.92" />
</g>
</g>
<g id="text_168">
<text style="font-size: 10px; text-anchor: end" x="718.82" y="1241.52">5000</text>
</g>
</g>
<g id="ytick_81">
<g id="line2d_157">
<g>
<use href="#m5d545ce8f8" x="725.82" y="1192.24" />
</g>
</g>
<g id="text_169">
<text style="font-size: 10px; text-anchor: end" x="718.82" y="1196.84">10000</text>
</g>
</g>
<g id="ytick_82">
<g id="line2d_158">
<g>
<use href="#m5d545ce8f8" x="725.82" y="1147.56" />
</g>
</g>
<g id="text_170">
<text style="font-size: 10px; text-anchor: end" x="718.82" y="1152.16">15000</text>
</g>
</g>
<g id="ytick_83">
<g id="line2d_159">
<g>
<use href="#m5d545ce8f8" x="725.82" y="1102.88" />
</g>
</g>
<g id="text_171">
<text style="font-size: 10px; text-anchor: end" x="718.82" y="1107.48">20000</text>
</g>
</g>
<g id="ytick_84">
<g id="line2d_160">
<g>
<use href="#m5d545ce8f8" x="725.82" y="1058.2" />
</g>
</g>
<g id="text_172">
<text style="font-size: 10px; text-anchor: end" x="718.82" y="1062.8">25000</text>
</g>
</g>
</g>
<g id="patch_1258">
<path d="M 725.82 1281.6 
L 725.82 1040.56 
" style="fill: none; stroke: #000000; stroke-width: 1; stroke-linejoin: miter; stroke-linecap: square"/>
</g>
<g id="patch_1259">
<path d="M 972 1281.6 
L 972 1040.56 
" style="fill: none; stroke: #000000; stroke-width: 1; stroke-linejoin: miter; stroke-linecap: square"/>
</g>
<g id="patch_1260">
<path d="M 725.82 1281.6 
L 972 1281.6 
" style="fill: none; stroke: #000000; stroke-width: 1; stroke-linejoin: miter; stroke-linecap: square"/>
</g>
<g id="patch_1261">
<path d="M 725.82 1040.56 
L 972 1040.56 
" style="fill: none; stroke: #000000; stroke-width: 1; stroke-linejoin: miter; stroke-linecap: square"/>
</g>
<g id="text_173">
<text style="font-size: 12px; text-anchor: middle" x="848.91" y="1035.36">m4_yearly</text>
</g>
</g>
</g>
<defs>
<clipPath id="pd97300e546">
<rect x="135" y="172.8" width="246.18" height="241.04"/>
</clipPath>
<clipPath id="p04cb8b4899">
<rect x="430.41" y="172.8" width="246.18" height="241.04"/>
</clipPath>
<clipPath id="pd97a7c8abd">
<rect x="725.82" y="172.8" width="246.18" height="241.04"/>
</clipPath>
<clipPath id="pf12d10b1b9">
<rect x="135" y="462.05" width="246.18" height="241.04"/>
</clipPath>
<clipPath id="p2f5e4bccb1">
<rect x="430.41" y="462.05" width="246.18" height="241.04"/>
</clipPath>
<clipPath id="p37502fa269">
<rect x="725.82" y="462.05" width="246.18" height="241.04"/>
</clipPath>
<clipPath id="pc1a973a570">
<rect x="135" y="751.3" width="246.18" height="241.04"/>
</clipPath>
<clipPath id="p3985819a6a">
<rect x="430.41" y="751.3" width="246.18" height="241.04"/>
</clipPath>
<clipPath id="p353d14e7e4">
<rect x="725.82" y="751.3" width="246.18" height="241.04"/>
</clipPath>
<clipPath id="pc0032b4e52">
<rect x="135" y="1040.56" width="246.18" height="241.04"/>
</clipPath>
<clipPath id="p63e7d66f0c">
<rect x="430.41" y="1040.56" width="246.18" height="241.04"/>
</clipPath>
<clipPath id="p0138525d51">
<rect x="725.82" y="1040.56" width="246.18" height="241.04"/>
</clipPath>
</defs>
</svg>

</body></html>
